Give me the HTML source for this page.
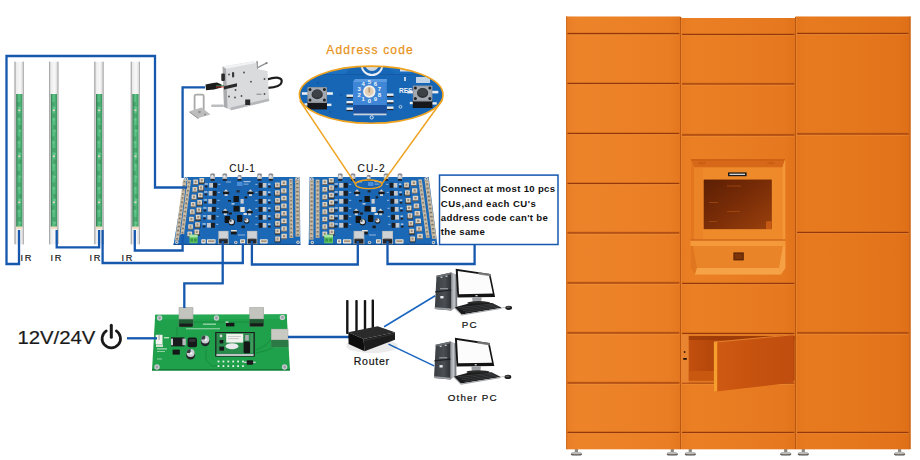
<!DOCTYPE html>
<html><head><meta charset="utf-8"><title>diagram</title>
<style>html,body{margin:0;padding:0;background:#fff;}svg{display:block}text{font-family:"Liberation Sans",sans-serif}</style>
</head><body>
<svg width="920" height="460" viewBox="0 0 920 460">
<rect width="920" height="460" fill="#fff"/>
<defs>
<linearGradient id="lk" x1="0" x2="1" y1="0" y2="0">
 <stop offset="0" stop-color="#ec832a"/><stop offset="0.33" stop-color="#ea7e24"/><stop offset="0.66" stop-color="#e6791f"/><stop offset="1" stop-color="#e2731a"/>
</linearGradient>
<linearGradient id="colsh" x1="0" x2="1" y1="0" y2="0">
 <stop offset="0" stop-color="#d86a14" stop-opacity="0.25"/><stop offset="0.12" stop-color="#f88e2c" stop-opacity="0.10"/><stop offset="0.5" stop-color="#f88e2c" stop-opacity="0.05"/><stop offset="0.9" stop-color="#d86a14" stop-opacity="0.05"/><stop offset="1" stop-color="#c85a0c" stop-opacity="0.22"/>
</linearGradient>
<linearGradient id="scr" x1="0" x2="1" y1="0" y2="1">
 <stop offset="0" stop-color="#5c1f04"/><stop offset="0.5" stop-color="#7a2d07"/><stop offset="1" stop-color="#9a400d"/>
</linearGradient>
<linearGradient id="inn" x1="0" x2="1" y1="0" y2="0">
 <stop offset="0" stop-color="#c2500e"/><stop offset="0.25" stop-color="#b3460a"/><stop offset="1" stop-color="#a84008"/>
</linearGradient>
<linearGradient id="door" x1="0" x2="1" y1="0" y2="0">
 <stop offset="0" stop-color="#cf5a12"/><stop offset="0.5" stop-color="#c6520f"/><stop offset="1" stop-color="#c04d0e"/>
</linearGradient>
<linearGradient id="tube" x1="0" x2="1" y1="0" y2="0">
 <stop offset="0" stop-color="#b4b4b4"/><stop offset="0.2" stop-color="#ededed"/><stop offset="0.6" stop-color="#f8f8f8"/><stop offset="0.85" stop-color="#dedede"/><stop offset="1" stop-color="#bcbcbc"/>
</linearGradient>
<linearGradient id="pcb" x1="0" x2="1" y1="0" y2="0">
 <stop offset="0" stop-color="#3c9f63"/><stop offset="0.5" stop-color="#5cc488"/><stop offset="1" stop-color="#3a955c"/>
</linearGradient>
</defs>
<g id="locker">
<rect x="574.8" y="448.5" width="3.2" height="4.5" fill="#8d8a86"/>
<ellipse cx="576.4" cy="453.6" rx="5.6" ry="1.7" fill="#9b9995"/>
<ellipse cx="576.4" cy="454.4" rx="5.6" ry="1.2" fill="#5f5d5a"/>
<ellipse cx="576.4" cy="453.2" rx="5" ry="1.1" fill="#bdbbb7"/>
<rect x="670.6999999999999" y="448.5" width="3.2" height="4.5" fill="#8d8a86"/>
<ellipse cx="672.3" cy="453.6" rx="5.6" ry="1.7" fill="#9b9995"/>
<ellipse cx="672.3" cy="454.4" rx="5.6" ry="1.2" fill="#5f5d5a"/>
<ellipse cx="672.3" cy="453.2" rx="5" ry="1.1" fill="#bdbbb7"/>
<rect x="688.6999999999999" y="448.5" width="3.2" height="4.5" fill="#8d8a86"/>
<ellipse cx="690.3" cy="453.6" rx="5.6" ry="1.7" fill="#9b9995"/>
<ellipse cx="690.3" cy="454.4" rx="5.6" ry="1.2" fill="#5f5d5a"/>
<ellipse cx="690.3" cy="453.2" rx="5" ry="1.1" fill="#bdbbb7"/>
<rect x="784.1" y="448.5" width="3.2" height="4.5" fill="#8d8a86"/>
<ellipse cx="785.7" cy="453.6" rx="5.6" ry="1.7" fill="#9b9995"/>
<ellipse cx="785.7" cy="454.4" rx="5.6" ry="1.2" fill="#5f5d5a"/>
<ellipse cx="785.7" cy="453.2" rx="5" ry="1.1" fill="#bdbbb7"/>
<rect x="801.6999999999999" y="448.5" width="3.2" height="4.5" fill="#8d8a86"/>
<ellipse cx="803.3" cy="453.6" rx="5.6" ry="1.7" fill="#9b9995"/>
<ellipse cx="803.3" cy="454.4" rx="5.6" ry="1.2" fill="#5f5d5a"/>
<ellipse cx="803.3" cy="453.2" rx="5" ry="1.1" fill="#bdbbb7"/>
<rect x="898.0" y="448.5" width="3.2" height="4.5" fill="#8d8a86"/>
<ellipse cx="899.6" cy="453.6" rx="5.6" ry="1.7" fill="#9b9995"/>
<ellipse cx="899.6" cy="454.4" rx="5.6" ry="1.2" fill="#5f5d5a"/>
<ellipse cx="899.6" cy="453.2" rx="5" ry="1.1" fill="#bdbbb7"/>
<rect x="566" y="16.5" width="344.5" height="432.8" fill="url(#lk)"/>
<rect x="566" y="16.5" width="114.5" height="432.8" fill="url(#colsh)"/>
<rect x="680.5" y="16.5" width="115.0" height="432.8" fill="url(#colsh)"/>
<rect x="795.5" y="16.5" width="115.0" height="432.8" fill="url(#colsh)"/>
<rect x="680.5" y="15" width="115" height="3" fill="#fff"/>
<rect x="680.0" y="17" width="1.1" height="432" fill="#b9560f"/>
<rect x="681.1" y="17" width="0.8" height="432" fill="#f0933f" opacity="0.6"/>
<rect x="795.0" y="17" width="1.1" height="432" fill="#b9560f"/>
<rect x="796.1" y="17" width="0.8" height="432" fill="#f0933f" opacity="0.6"/>
<rect x="566" y="16.5" width="1.2" height="432.5" fill="#d4701f"/>
<rect x="909.3" y="16.5" width="1.2" height="432.5" fill="#c7641a"/>
<rect x="567.5" y="33.0" width="111.79999999999995" height="1.4" fill="#97380a"/>
<rect x="567.5" y="34.400000000000006" width="111.79999999999995" height="0.9" fill="#f29a45" opacity="0.55"/>
<rect x="567.5" y="32.2" width="111.79999999999995" height="0.8" fill="#cf6a1c" opacity="0.6"/>
<rect x="567.5" y="82.8" width="111.79999999999995" height="1.4" fill="#97380a"/>
<rect x="567.5" y="84.2" width="111.79999999999995" height="0.9" fill="#f29a45" opacity="0.55"/>
<rect x="567.5" y="82.0" width="111.79999999999995" height="0.8" fill="#cf6a1c" opacity="0.6"/>
<rect x="567.5" y="132.8" width="111.79999999999995" height="1.4" fill="#97380a"/>
<rect x="567.5" y="134.2" width="111.79999999999995" height="0.9" fill="#f29a45" opacity="0.55"/>
<rect x="567.5" y="132.0" width="111.79999999999995" height="0.8" fill="#cf6a1c" opacity="0.6"/>
<rect x="567.5" y="182.8" width="111.79999999999995" height="1.4" fill="#97380a"/>
<rect x="567.5" y="184.2" width="111.79999999999995" height="0.9" fill="#f29a45" opacity="0.55"/>
<rect x="567.5" y="182.0" width="111.79999999999995" height="0.8" fill="#cf6a1c" opacity="0.6"/>
<rect x="567.5" y="232.3" width="111.79999999999995" height="1.4" fill="#97380a"/>
<rect x="567.5" y="233.7" width="111.79999999999995" height="0.9" fill="#f29a45" opacity="0.55"/>
<rect x="567.5" y="231.5" width="111.79999999999995" height="0.8" fill="#cf6a1c" opacity="0.6"/>
<rect x="567.5" y="282.3" width="111.79999999999995" height="1.4" fill="#97380a"/>
<rect x="567.5" y="283.7" width="111.79999999999995" height="0.9" fill="#f29a45" opacity="0.55"/>
<rect x="567.5" y="281.5" width="111.79999999999995" height="0.8" fill="#cf6a1c" opacity="0.6"/>
<rect x="567.5" y="332.3" width="111.79999999999995" height="1.4" fill="#97380a"/>
<rect x="567.5" y="333.7" width="111.79999999999995" height="0.9" fill="#f29a45" opacity="0.55"/>
<rect x="567.5" y="331.5" width="111.79999999999995" height="0.8" fill="#cf6a1c" opacity="0.6"/>
<rect x="567.5" y="382.3" width="111.79999999999995" height="1.4" fill="#97380a"/>
<rect x="567.5" y="383.7" width="111.79999999999995" height="0.9" fill="#f29a45" opacity="0.55"/>
<rect x="567.5" y="381.5" width="111.79999999999995" height="0.8" fill="#cf6a1c" opacity="0.6"/>
<rect x="567.5" y="431.8" width="111.79999999999995" height="1.4" fill="#97380a"/>
<rect x="567.5" y="433.2" width="111.79999999999995" height="0.9" fill="#f29a45" opacity="0.55"/>
<rect x="567.5" y="431.0" width="111.79999999999995" height="0.8" fill="#cf6a1c" opacity="0.6"/>
<rect x="682" y="33.8" width="112.29999999999995" height="1.4" fill="#97380a"/>
<rect x="682" y="35.2" width="112.29999999999995" height="0.9" fill="#f29a45" opacity="0.55"/>
<rect x="682" y="33.0" width="112.29999999999995" height="0.8" fill="#cf6a1c" opacity="0.6"/>
<rect x="682" y="83.3" width="112.29999999999995" height="1.4" fill="#97380a"/>
<rect x="682" y="84.7" width="112.29999999999995" height="0.9" fill="#f29a45" opacity="0.55"/>
<rect x="682" y="82.5" width="112.29999999999995" height="0.8" fill="#cf6a1c" opacity="0.6"/>
<rect x="682" y="134.3" width="112.29999999999995" height="1.4" fill="#97380a"/>
<rect x="682" y="135.7" width="112.29999999999995" height="0.9" fill="#f29a45" opacity="0.55"/>
<rect x="682" y="133.5" width="112.29999999999995" height="0.8" fill="#cf6a1c" opacity="0.6"/>
<rect x="682" y="282.8" width="112.29999999999995" height="1.4" fill="#97380a"/>
<rect x="682" y="284.2" width="112.29999999999995" height="0.9" fill="#f29a45" opacity="0.55"/>
<rect x="682" y="282.0" width="112.29999999999995" height="0.8" fill="#cf6a1c" opacity="0.6"/>
<rect x="682" y="332.8" width="112.29999999999995" height="1.4" fill="#97380a"/>
<rect x="682" y="334.2" width="112.29999999999995" height="0.9" fill="#f29a45" opacity="0.55"/>
<rect x="682" y="332.0" width="112.29999999999995" height="0.8" fill="#cf6a1c" opacity="0.6"/>
<rect x="682" y="382.3" width="112.29999999999995" height="1.4" fill="#97380a"/>
<rect x="682" y="383.7" width="112.29999999999995" height="0.9" fill="#f29a45" opacity="0.55"/>
<rect x="682" y="381.5" width="112.29999999999995" height="0.8" fill="#cf6a1c" opacity="0.6"/>
<rect x="682" y="431.8" width="112.29999999999995" height="1.4" fill="#97380a"/>
<rect x="682" y="433.2" width="112.29999999999995" height="0.9" fill="#f29a45" opacity="0.55"/>
<rect x="682" y="431.0" width="112.29999999999995" height="0.8" fill="#cf6a1c" opacity="0.6"/>
<rect x="797" y="32.8" width="111.5" height="1.4" fill="#97380a"/>
<rect x="797" y="34.2" width="111.5" height="0.9" fill="#f29a45" opacity="0.55"/>
<rect x="797" y="31.999999999999996" width="111.5" height="0.8" fill="#cf6a1c" opacity="0.6"/>
<rect x="797" y="133.3" width="111.5" height="1.4" fill="#97380a"/>
<rect x="797" y="134.7" width="111.5" height="0.9" fill="#f29a45" opacity="0.55"/>
<rect x="797" y="132.5" width="111.5" height="0.8" fill="#cf6a1c" opacity="0.6"/>
<rect x="797" y="231.8" width="111.5" height="1.4" fill="#97380a"/>
<rect x="797" y="233.2" width="111.5" height="0.9" fill="#f29a45" opacity="0.55"/>
<rect x="797" y="231.0" width="111.5" height="0.8" fill="#cf6a1c" opacity="0.6"/>
<rect x="797" y="332.3" width="111.5" height="1.4" fill="#97380a"/>
<rect x="797" y="333.7" width="111.5" height="0.9" fill="#f29a45" opacity="0.55"/>
<rect x="797" y="331.5" width="111.5" height="0.8" fill="#cf6a1c" opacity="0.6"/>
<rect x="797" y="431.8" width="111.5" height="1.4" fill="#97380a"/>
<rect x="797" y="433.2" width="111.5" height="0.9" fill="#f29a45" opacity="0.55"/>
<rect x="797" y="431.0" width="111.5" height="0.8" fill="#cf6a1c" opacity="0.6"/>
<path d="M690.6 159 H785.2 V268 L781 274.5 H695 L690.6 268 Z" fill="#ee8a2a"/>
<path d="M690.6 159 H785.2 L782.4 167.6 H694 Z" fill="#d7681a"/>
<path d="M690.6 159 H785.2 L784.6 161 H691.2 Z" fill="#cc5e14" opacity="0.7"/>
<ellipse cx="702" cy="163" rx="4" ry="1.6" fill="#c65a12" opacity="0.6"/><ellipse cx="771" cy="163" rx="4" ry="1.6" fill="#c65a12" opacity="0.6"/>
<path d="M690.6 159 L694 167.6 V240 L690.6 240 Z" fill="#e3771f"/>
<path d="M785.2 159 L782.4 167.6 V240 L785.2 240 Z" fill="#f4983a"/>
<rect x="694" y="167.6" width="88.4" height="72" fill="#ee8a2a"/>
<rect x="694" y="167.6" width="9" height="72" fill="#e98226" opacity="0.8"/>
<rect x="703.2" y="179" width="69" height="50.8" fill="#f0912f"/>
<rect x="703.8" y="179.7" width="67.8" height="49.4" fill="#8f3608"/>
<rect x="703.8" y="179.7" width="67.8" height="49.4" fill="url(#scr)"/>
<path d="M771.6 221 L766 221.5 V229.1 H771.6 Z" fill="#c65a14"/>
<rect x="727" y="185.5" width="14" height="1" fill="#a44a12" opacity="0.8"/>
<rect x="709" y="202" width="9" height="1" fill="#a44a12" opacity="0.8"/>
<rect x="727" y="211" width="13" height="1" fill="#a44a12" opacity="0.8"/>
<rect x="709" y="221" width="8" height="1" fill="#a44a12" opacity="0.8"/>
<rect x="728" y="172.4" width="18.6" height="3.8" fill="#1a1a1a"/><rect x="729.5" y="173.7" width="15.5" height="1.2" fill="#e9e9e9"/>
<rect x="690.6" y="239.4" width="94.8" height="1.4" fill="#c9601a"/>
<path d="M690.6 240.8 H785.4 V246 H690.6 Z" fill="#f49a3a"/>
<path d="M693 246 H783 L779 268 H697 Z" fill="#ea8428"/>
<path d="M690.6 246 H693 L697 268 L695 274.5 L690.6 268 Z" fill="#e0761f"/>
<path d="M785.4 246 H783 L779 268 L781 274.5 L785.4 268 Z" fill="#f5a044"/>
<path d="M697 268 H779 L781 274.5 H695 Z" fill="#f6a348"/>
<rect x="733.4" y="252.4" width="10.4" height="8" fill="#5a2406"/><rect x="734.6" y="253.6" width="8" height="5.6" fill="#7d3409"/>
<rect x="682" y="334.2" width="112.5" height="48.3" fill="#e27a24"/>
<rect x="688.5" y="336" width="106" height="44.5" fill="url(#inn)"/>
<rect x="688.5" y="371" width="30" height="9.5" fill="#c85710"/>
<rect x="688.5" y="336" width="106" height="4" fill="#8f3406" opacity="0.55"/>
<rect x="682" y="334.2" width="6.5" height="48.3" fill="#e98530"/>
<circle cx="684.6" cy="352" r="0.9" fill="#3a1a08"/><rect x="683.2" y="358" width="3.6" height="1.8" fill="#2a1206"/>
<path d="M713.9 341.7 L793.6 334.3 L793.6 382.6 L713.9 391.7 Z" fill="url(#door)"/>
<path d="M713.9 341.7 L717.2 341.4 L717.2 391.3 L713.9 391.7 Z" fill="#f5a02e"/>
<path d="M713.9 341.7 L793.6 334.3 L793.6 335.3 L713.9 342.7 Z" fill="#e98a35" opacity="0.8"/>
</g>
<g id="irbars">
<rect x="14.6" y="61.7" width="9.2" height="182.6" fill="url(#tube)"/>
<rect x="14.6" y="61.7" width="0.8" height="182.6" fill="#a2a2a2"/>
<rect x="22.9" y="61.7" width="0.9" height="182.6" fill="#adadad"/>
<rect x="16.2" y="94" width="6.2" height="133" fill="url(#pcb)"/>
<rect x="16.2" y="94" width="1.1" height="133" fill="#3a5f48" opacity="0.45"/>
<rect x="16.8" y="102.0" width="3.2" height="4.2" fill="#2f7a4c" opacity="0.35"/>
<rect x="19.0" y="107.0" width="2.4" height="2" fill="#7fd6a2" opacity="0.4"/>
<rect x="18.2" y="109.5" width="2.2" height="1.6" fill="#f0d9d0" opacity="0.9"/>
<rect x="17.6" y="113.5" width="3.2" height="4.2" fill="#2f7a4c" opacity="0.35"/>
<rect x="17.8" y="118.5" width="2.4" height="2" fill="#7fd6a2" opacity="0.4"/>
<rect x="18.4" y="125.0" width="3.2" height="4.2" fill="#2f7a4c" opacity="0.35"/>
<rect x="19.0" y="130.0" width="2.4" height="2" fill="#7fd6a2" opacity="0.4"/>
<rect x="16.8" y="136.5" width="3.2" height="4.2" fill="#2f7a4c" opacity="0.35"/>
<rect x="17.8" y="141.5" width="2.4" height="2" fill="#7fd6a2" opacity="0.4"/>
<rect x="17.6" y="148.0" width="3.2" height="4.2" fill="#2f7a4c" opacity="0.35"/>
<rect x="19.0" y="153.0" width="2.4" height="2" fill="#7fd6a2" opacity="0.4"/>
<rect x="18.2" y="155.5" width="2.2" height="1.6" fill="#f0d9d0" opacity="0.9"/>
<rect x="18.4" y="159.5" width="3.2" height="4.2" fill="#2f7a4c" opacity="0.35"/>
<rect x="17.8" y="164.5" width="2.4" height="2" fill="#7fd6a2" opacity="0.4"/>
<rect x="16.8" y="171.0" width="3.2" height="4.2" fill="#2f7a4c" opacity="0.35"/>
<rect x="19.0" y="176.0" width="2.4" height="2" fill="#7fd6a2" opacity="0.4"/>
<rect x="17.6" y="182.5" width="3.2" height="4.2" fill="#2f7a4c" opacity="0.35"/>
<rect x="17.8" y="187.5" width="2.4" height="2" fill="#7fd6a2" opacity="0.4"/>
<rect x="18.4" y="194.0" width="3.2" height="4.2" fill="#2f7a4c" opacity="0.35"/>
<rect x="19.0" y="199.0" width="2.4" height="2" fill="#7fd6a2" opacity="0.4"/>
<rect x="18.2" y="201.5" width="2.2" height="1.6" fill="#f0d9d0" opacity="0.9"/>
<rect x="16.8" y="205.5" width="3.2" height="4.2" fill="#2f7a4c" opacity="0.35"/>
<rect x="17.8" y="210.5" width="2.4" height="2" fill="#7fd6a2" opacity="0.4"/>
<rect x="17.6" y="217.0" width="3.2" height="4.2" fill="#2f7a4c" opacity="0.35"/>
<rect x="19.0" y="222.0" width="2.4" height="2" fill="#7fd6a2" opacity="0.4"/>
<rect x="16.2" y="226.5" width="6.2" height="2.4" fill="#f0dcc0"/>
<rect x="49.2" y="61.7" width="9.2" height="182.6" fill="url(#tube)"/>
<rect x="49.2" y="61.7" width="0.8" height="182.6" fill="#a2a2a2"/>
<rect x="57.50000000000001" y="61.7" width="0.9" height="182.6" fill="#adadad"/>
<rect x="50.800000000000004" y="94" width="6.2" height="133" fill="url(#pcb)"/>
<rect x="50.800000000000004" y="94" width="1.1" height="133" fill="#3a5f48" opacity="0.45"/>
<rect x="51.4" y="102.0" width="3.2" height="4.2" fill="#2f7a4c" opacity="0.35"/>
<rect x="53.6" y="107.0" width="2.4" height="2" fill="#7fd6a2" opacity="0.4"/>
<rect x="52.800000000000004" y="109.5" width="2.2" height="1.6" fill="#f0d9d0" opacity="0.9"/>
<rect x="52.2" y="113.5" width="3.2" height="4.2" fill="#2f7a4c" opacity="0.35"/>
<rect x="52.4" y="118.5" width="2.4" height="2" fill="#7fd6a2" opacity="0.4"/>
<rect x="53.0" y="125.0" width="3.2" height="4.2" fill="#2f7a4c" opacity="0.35"/>
<rect x="53.6" y="130.0" width="2.4" height="2" fill="#7fd6a2" opacity="0.4"/>
<rect x="51.4" y="136.5" width="3.2" height="4.2" fill="#2f7a4c" opacity="0.35"/>
<rect x="52.4" y="141.5" width="2.4" height="2" fill="#7fd6a2" opacity="0.4"/>
<rect x="52.2" y="148.0" width="3.2" height="4.2" fill="#2f7a4c" opacity="0.35"/>
<rect x="53.6" y="153.0" width="2.4" height="2" fill="#7fd6a2" opacity="0.4"/>
<rect x="52.800000000000004" y="155.5" width="2.2" height="1.6" fill="#f0d9d0" opacity="0.9"/>
<rect x="53.0" y="159.5" width="3.2" height="4.2" fill="#2f7a4c" opacity="0.35"/>
<rect x="52.4" y="164.5" width="2.4" height="2" fill="#7fd6a2" opacity="0.4"/>
<rect x="51.4" y="171.0" width="3.2" height="4.2" fill="#2f7a4c" opacity="0.35"/>
<rect x="53.6" y="176.0" width="2.4" height="2" fill="#7fd6a2" opacity="0.4"/>
<rect x="52.2" y="182.5" width="3.2" height="4.2" fill="#2f7a4c" opacity="0.35"/>
<rect x="52.4" y="187.5" width="2.4" height="2" fill="#7fd6a2" opacity="0.4"/>
<rect x="53.0" y="194.0" width="3.2" height="4.2" fill="#2f7a4c" opacity="0.35"/>
<rect x="53.6" y="199.0" width="2.4" height="2" fill="#7fd6a2" opacity="0.4"/>
<rect x="52.800000000000004" y="201.5" width="2.2" height="1.6" fill="#f0d9d0" opacity="0.9"/>
<rect x="51.4" y="205.5" width="3.2" height="4.2" fill="#2f7a4c" opacity="0.35"/>
<rect x="52.4" y="210.5" width="2.4" height="2" fill="#7fd6a2" opacity="0.4"/>
<rect x="52.2" y="217.0" width="3.2" height="4.2" fill="#2f7a4c" opacity="0.35"/>
<rect x="53.6" y="222.0" width="2.4" height="2" fill="#7fd6a2" opacity="0.4"/>
<rect x="50.800000000000004" y="226.5" width="6.2" height="2.4" fill="#f0dcc0"/>
<rect x="94.4" y="61.7" width="9.2" height="182.6" fill="url(#tube)"/>
<rect x="94.4" y="61.7" width="0.8" height="182.6" fill="#a2a2a2"/>
<rect x="102.7" y="61.7" width="0.9" height="182.6" fill="#adadad"/>
<rect x="96.0" y="94" width="6.2" height="133" fill="url(#pcb)"/>
<rect x="96.0" y="94" width="1.1" height="133" fill="#3a5f48" opacity="0.45"/>
<rect x="96.6" y="102.0" width="3.2" height="4.2" fill="#2f7a4c" opacity="0.35"/>
<rect x="98.8" y="107.0" width="2.4" height="2" fill="#7fd6a2" opacity="0.4"/>
<rect x="98.0" y="109.5" width="2.2" height="1.6" fill="#f0d9d0" opacity="0.9"/>
<rect x="97.4" y="113.5" width="3.2" height="4.2" fill="#2f7a4c" opacity="0.35"/>
<rect x="97.6" y="118.5" width="2.4" height="2" fill="#7fd6a2" opacity="0.4"/>
<rect x="98.2" y="125.0" width="3.2" height="4.2" fill="#2f7a4c" opacity="0.35"/>
<rect x="98.8" y="130.0" width="2.4" height="2" fill="#7fd6a2" opacity="0.4"/>
<rect x="96.6" y="136.5" width="3.2" height="4.2" fill="#2f7a4c" opacity="0.35"/>
<rect x="97.6" y="141.5" width="2.4" height="2" fill="#7fd6a2" opacity="0.4"/>
<rect x="97.4" y="148.0" width="3.2" height="4.2" fill="#2f7a4c" opacity="0.35"/>
<rect x="98.8" y="153.0" width="2.4" height="2" fill="#7fd6a2" opacity="0.4"/>
<rect x="98.0" y="155.5" width="2.2" height="1.6" fill="#f0d9d0" opacity="0.9"/>
<rect x="98.2" y="159.5" width="3.2" height="4.2" fill="#2f7a4c" opacity="0.35"/>
<rect x="97.6" y="164.5" width="2.4" height="2" fill="#7fd6a2" opacity="0.4"/>
<rect x="96.6" y="171.0" width="3.2" height="4.2" fill="#2f7a4c" opacity="0.35"/>
<rect x="98.8" y="176.0" width="2.4" height="2" fill="#7fd6a2" opacity="0.4"/>
<rect x="97.4" y="182.5" width="3.2" height="4.2" fill="#2f7a4c" opacity="0.35"/>
<rect x="97.6" y="187.5" width="2.4" height="2" fill="#7fd6a2" opacity="0.4"/>
<rect x="98.2" y="194.0" width="3.2" height="4.2" fill="#2f7a4c" opacity="0.35"/>
<rect x="98.8" y="199.0" width="2.4" height="2" fill="#7fd6a2" opacity="0.4"/>
<rect x="98.0" y="201.5" width="2.2" height="1.6" fill="#f0d9d0" opacity="0.9"/>
<rect x="96.6" y="205.5" width="3.2" height="4.2" fill="#2f7a4c" opacity="0.35"/>
<rect x="97.6" y="210.5" width="2.4" height="2" fill="#7fd6a2" opacity="0.4"/>
<rect x="97.4" y="217.0" width="3.2" height="4.2" fill="#2f7a4c" opacity="0.35"/>
<rect x="98.8" y="222.0" width="2.4" height="2" fill="#7fd6a2" opacity="0.4"/>
<rect x="96.0" y="226.5" width="6.2" height="2.4" fill="#f0dcc0"/>
<rect x="130.8" y="61.7" width="9.2" height="182.6" fill="url(#tube)"/>
<rect x="130.8" y="61.7" width="0.8" height="182.6" fill="#a2a2a2"/>
<rect x="139.1" y="61.7" width="0.9" height="182.6" fill="#adadad"/>
<rect x="132.4" y="94" width="6.2" height="133" fill="url(#pcb)"/>
<rect x="132.4" y="94" width="1.1" height="133" fill="#3a5f48" opacity="0.45"/>
<rect x="133.0" y="102.0" width="3.2" height="4.2" fill="#2f7a4c" opacity="0.35"/>
<rect x="135.2" y="107.0" width="2.4" height="2" fill="#7fd6a2" opacity="0.4"/>
<rect x="134.4" y="109.5" width="2.2" height="1.6" fill="#f0d9d0" opacity="0.9"/>
<rect x="133.8" y="113.5" width="3.2" height="4.2" fill="#2f7a4c" opacity="0.35"/>
<rect x="134.0" y="118.5" width="2.4" height="2" fill="#7fd6a2" opacity="0.4"/>
<rect x="134.6" y="125.0" width="3.2" height="4.2" fill="#2f7a4c" opacity="0.35"/>
<rect x="135.2" y="130.0" width="2.4" height="2" fill="#7fd6a2" opacity="0.4"/>
<rect x="133.0" y="136.5" width="3.2" height="4.2" fill="#2f7a4c" opacity="0.35"/>
<rect x="134.0" y="141.5" width="2.4" height="2" fill="#7fd6a2" opacity="0.4"/>
<rect x="133.8" y="148.0" width="3.2" height="4.2" fill="#2f7a4c" opacity="0.35"/>
<rect x="135.2" y="153.0" width="2.4" height="2" fill="#7fd6a2" opacity="0.4"/>
<rect x="134.4" y="155.5" width="2.2" height="1.6" fill="#f0d9d0" opacity="0.9"/>
<rect x="134.6" y="159.5" width="3.2" height="4.2" fill="#2f7a4c" opacity="0.35"/>
<rect x="134.0" y="164.5" width="2.4" height="2" fill="#7fd6a2" opacity="0.4"/>
<rect x="133.0" y="171.0" width="3.2" height="4.2" fill="#2f7a4c" opacity="0.35"/>
<rect x="135.2" y="176.0" width="2.4" height="2" fill="#7fd6a2" opacity="0.4"/>
<rect x="133.8" y="182.5" width="3.2" height="4.2" fill="#2f7a4c" opacity="0.35"/>
<rect x="134.0" y="187.5" width="2.4" height="2" fill="#7fd6a2" opacity="0.4"/>
<rect x="134.6" y="194.0" width="3.2" height="4.2" fill="#2f7a4c" opacity="0.35"/>
<rect x="135.2" y="199.0" width="2.4" height="2" fill="#7fd6a2" opacity="0.4"/>
<rect x="134.4" y="201.5" width="2.2" height="1.6" fill="#f0d9d0" opacity="0.9"/>
<rect x="133.0" y="205.5" width="3.2" height="4.2" fill="#2f7a4c" opacity="0.35"/>
<rect x="134.0" y="210.5" width="2.4" height="2" fill="#7fd6a2" opacity="0.4"/>
<rect x="133.8" y="217.0" width="3.2" height="4.2" fill="#2f7a4c" opacity="0.35"/>
<rect x="135.2" y="222.0" width="2.4" height="2" fill="#7fd6a2" opacity="0.4"/>
<rect x="132.4" y="226.5" width="6.2" height="2.4" fill="#f0dcc0"/>
</g>
<g>
<path d="M184.8 177.0 L299.6 177.0 L300.4 245.0 L173.5 245.0 Z" fill="#1b68b6"/>
<path d="M173.5 243.8 L300.4 243.8 L300.4 245.0 L173.5 245.0 Z" fill="#154f92"/>
<rect x="218.0" y="179.0" width="39.69999999999999" height="52.0" fill="#1a62ad" opacity="0.55"/>
<path d="M183.0 179.5 L186.6 179.5 L178.8 240.5 L175.0 240.5 Z" fill="#cdbfa8"/>
<rect x="183.6" y="180.9" width="1.8" height="1.5" fill="#6d6a66" opacity="0.85"/>
<rect x="182.7" y="182.6" width="3.6" height="0.6" fill="#a89a84"/>
<rect x="183.1" y="185.0" width="1.8" height="1.5" fill="#6d6a66" opacity="0.85"/>
<rect x="182.2" y="186.7" width="3.6" height="0.6" fill="#a89a84"/>
<rect x="182.6" y="189.1" width="1.8" height="1.5" fill="#6d6a66" opacity="0.85"/>
<rect x="181.7" y="190.8" width="3.6" height="0.6" fill="#a89a84"/>
<rect x="182.0" y="193.1" width="1.8" height="1.5" fill="#6d6a66" opacity="0.85"/>
<rect x="181.1" y="194.8" width="3.6" height="0.6" fill="#a89a84"/>
<rect x="181.5" y="197.2" width="1.9" height="1.5" fill="#6d6a66" opacity="0.85"/>
<rect x="180.6" y="198.9" width="3.7" height="0.6" fill="#a89a84"/>
<rect x="181.0" y="201.3" width="1.9" height="1.5" fill="#6d6a66" opacity="0.85"/>
<rect x="180.1" y="203.0" width="3.7" height="0.6" fill="#a89a84"/>
<rect x="180.4" y="205.3" width="1.9" height="1.5" fill="#6d6a66" opacity="0.85"/>
<rect x="179.5" y="207.0" width="3.7" height="0.6" fill="#a89a84"/>
<rect x="179.9" y="209.4" width="1.9" height="1.5" fill="#6d6a66" opacity="0.85"/>
<rect x="179.0" y="211.1" width="3.7" height="0.6" fill="#a89a84"/>
<rect x="179.4" y="213.5" width="1.9" height="1.5" fill="#6d6a66" opacity="0.85"/>
<rect x="178.5" y="215.2" width="3.7" height="0.6" fill="#a89a84"/>
<rect x="178.8" y="217.5" width="1.9" height="1.5" fill="#6d6a66" opacity="0.85"/>
<rect x="177.9" y="219.2" width="3.7" height="0.6" fill="#a89a84"/>
<rect x="178.3" y="221.6" width="1.9" height="1.5" fill="#6d6a66" opacity="0.85"/>
<rect x="177.4" y="223.3" width="3.7" height="0.6" fill="#a89a84"/>
<rect x="177.8" y="225.7" width="2.0" height="1.5" fill="#6d6a66" opacity="0.85"/>
<rect x="176.9" y="227.4" width="3.8" height="0.6" fill="#a89a84"/>
<rect x="177.2" y="229.7" width="2.0" height="1.5" fill="#6d6a66" opacity="0.85"/>
<rect x="176.3" y="231.4" width="3.8" height="0.6" fill="#a89a84"/>
<rect x="176.7" y="233.8" width="2.0" height="1.5" fill="#6d6a66" opacity="0.85"/>
<rect x="175.8" y="235.5" width="3.8" height="0.6" fill="#a89a84"/>
<rect x="176.2" y="237.9" width="2.0" height="1.5" fill="#6d6a66" opacity="0.85"/>
<rect x="175.3" y="239.6" width="3.8" height="0.6" fill="#a89a84"/>
<path d="M187.4 180 L191.0 180 L184.0 234.5 L180.4 234.5 Z" fill="#cdbfa8"/>
<rect x="188.0" y="181.5" width="1.8" height="1.5" fill="#6d6a66" opacity="0.85"/>
<rect x="187.1" y="183.2" width="3.6" height="0.6" fill="#a89a84"/>
<rect x="187.5" y="185.7" width="1.8" height="1.5" fill="#6d6a66" opacity="0.85"/>
<rect x="186.6" y="187.4" width="3.6" height="0.6" fill="#a89a84"/>
<rect x="187.0" y="189.9" width="1.8" height="1.5" fill="#6d6a66" opacity="0.85"/>
<rect x="186.1" y="191.6" width="3.6" height="0.6" fill="#a89a84"/>
<rect x="186.4" y="194.1" width="1.8" height="1.5" fill="#6d6a66" opacity="0.85"/>
<rect x="185.5" y="195.8" width="3.6" height="0.6" fill="#a89a84"/>
<rect x="185.9" y="198.3" width="1.8" height="1.5" fill="#6d6a66" opacity="0.85"/>
<rect x="185.0" y="200.0" width="3.6" height="0.6" fill="#a89a84"/>
<rect x="185.3" y="202.5" width="1.8" height="1.5" fill="#6d6a66" opacity="0.85"/>
<rect x="184.4" y="204.2" width="3.6" height="0.6" fill="#a89a84"/>
<rect x="184.8" y="206.7" width="1.8" height="1.5" fill="#6d6a66" opacity="0.85"/>
<rect x="183.9" y="208.3" width="3.6" height="0.6" fill="#a89a84"/>
<rect x="184.3" y="210.8" width="1.8" height="1.5" fill="#6d6a66" opacity="0.85"/>
<rect x="183.4" y="212.5" width="3.6" height="0.6" fill="#a89a84"/>
<rect x="183.7" y="215.0" width="1.8" height="1.5" fill="#6d6a66" opacity="0.85"/>
<rect x="182.8" y="216.7" width="3.6" height="0.6" fill="#a89a84"/>
<rect x="183.2" y="219.2" width="1.8" height="1.5" fill="#6d6a66" opacity="0.85"/>
<rect x="182.3" y="220.9" width="3.6" height="0.6" fill="#a89a84"/>
<rect x="182.6" y="223.4" width="1.8" height="1.5" fill="#6d6a66" opacity="0.85"/>
<rect x="181.7" y="225.1" width="3.6" height="0.6" fill="#a89a84"/>
<rect x="182.1" y="227.6" width="1.8" height="1.5" fill="#6d6a66" opacity="0.85"/>
<rect x="181.2" y="229.3" width="3.6" height="0.6" fill="#a89a84"/>
<rect x="181.6" y="231.8" width="1.8" height="1.5" fill="#6d6a66" opacity="0.85"/>
<rect x="180.7" y="233.5" width="3.6" height="0.6" fill="#a89a84"/>
<path d="M289.1 178.7 L292.6 178.7 L293.2 238 L289.6 238 Z" fill="#cdbfa8"/>
<rect x="290.0" y="180.1" width="1.7" height="1.5" fill="#6d6a66" opacity="0.85"/>
<rect x="289.1" y="181.8" width="3.5" height="0.6" fill="#a89a84"/>
<rect x="290.1" y="184.0" width="1.7" height="1.5" fill="#6d6a66" opacity="0.85"/>
<rect x="289.2" y="185.7" width="3.5" height="0.6" fill="#a89a84"/>
<rect x="290.1" y="188.0" width="1.7" height="1.5" fill="#6d6a66" opacity="0.85"/>
<rect x="289.2" y="189.7" width="3.5" height="0.6" fill="#a89a84"/>
<rect x="290.1" y="191.9" width="1.7" height="1.5" fill="#6d6a66" opacity="0.85"/>
<rect x="289.2" y="193.6" width="3.5" height="0.6" fill="#a89a84"/>
<rect x="290.1" y="195.9" width="1.7" height="1.5" fill="#6d6a66" opacity="0.85"/>
<rect x="289.2" y="197.6" width="3.5" height="0.6" fill="#a89a84"/>
<rect x="290.2" y="199.8" width="1.7" height="1.5" fill="#6d6a66" opacity="0.85"/>
<rect x="289.3" y="201.5" width="3.5" height="0.6" fill="#a89a84"/>
<rect x="290.2" y="203.8" width="1.7" height="1.5" fill="#6d6a66" opacity="0.85"/>
<rect x="289.3" y="205.5" width="3.5" height="0.6" fill="#a89a84"/>
<rect x="290.2" y="207.8" width="1.7" height="1.5" fill="#6d6a66" opacity="0.85"/>
<rect x="289.4" y="209.4" width="3.5" height="0.6" fill="#a89a84"/>
<rect x="290.3" y="211.7" width="1.8" height="1.5" fill="#6d6a66" opacity="0.85"/>
<rect x="289.4" y="213.4" width="3.6" height="0.6" fill="#a89a84"/>
<rect x="290.3" y="215.7" width="1.8" height="1.5" fill="#6d6a66" opacity="0.85"/>
<rect x="289.4" y="217.4" width="3.6" height="0.6" fill="#a89a84"/>
<rect x="290.4" y="219.6" width="1.8" height="1.5" fill="#6d6a66" opacity="0.85"/>
<rect x="289.5" y="221.3" width="3.6" height="0.6" fill="#a89a84"/>
<rect x="290.4" y="223.6" width="1.8" height="1.5" fill="#6d6a66" opacity="0.85"/>
<rect x="289.5" y="225.3" width="3.6" height="0.6" fill="#a89a84"/>
<rect x="290.4" y="227.5" width="1.8" height="1.5" fill="#6d6a66" opacity="0.85"/>
<rect x="289.5" y="229.2" width="3.6" height="0.6" fill="#a89a84"/>
<rect x="290.4" y="231.5" width="1.8" height="1.5" fill="#6d6a66" opacity="0.85"/>
<rect x="289.6" y="233.2" width="3.6" height="0.6" fill="#a89a84"/>
<rect x="290.5" y="235.4" width="1.8" height="1.5" fill="#6d6a66" opacity="0.85"/>
<rect x="289.6" y="237.1" width="3.6" height="0.6" fill="#a89a84"/>
<path d="M295.2 177.6 L299.4 177.6 L299.9 236.5 L295.6 236.5 Z" fill="#cdbfa8"/>
<rect x="296.1" y="179.0" width="2.4" height="1.5" fill="#6d6a66" opacity="0.85"/>
<rect x="295.2" y="180.7" width="4.2" height="0.6" fill="#a89a84"/>
<rect x="296.1" y="182.9" width="2.4" height="1.5" fill="#6d6a66" opacity="0.85"/>
<rect x="295.2" y="184.6" width="4.2" height="0.6" fill="#a89a84"/>
<rect x="296.2" y="186.8" width="2.4" height="1.5" fill="#6d6a66" opacity="0.85"/>
<rect x="295.3" y="188.5" width="4.2" height="0.6" fill="#a89a84"/>
<rect x="296.2" y="190.7" width="2.4" height="1.5" fill="#6d6a66" opacity="0.85"/>
<rect x="295.3" y="192.4" width="4.2" height="0.6" fill="#a89a84"/>
<rect x="296.2" y="194.7" width="2.4" height="1.5" fill="#6d6a66" opacity="0.85"/>
<rect x="295.3" y="196.4" width="4.2" height="0.6" fill="#a89a84"/>
<rect x="296.2" y="198.6" width="2.4" height="1.5" fill="#6d6a66" opacity="0.85"/>
<rect x="295.3" y="200.3" width="4.2" height="0.6" fill="#a89a84"/>
<rect x="296.3" y="202.5" width="2.4" height="1.5" fill="#6d6a66" opacity="0.85"/>
<rect x="295.4" y="204.2" width="4.2" height="0.6" fill="#a89a84"/>
<rect x="296.3" y="206.5" width="2.5" height="1.5" fill="#6d6a66" opacity="0.85"/>
<rect x="295.4" y="208.2" width="4.2" height="0.6" fill="#a89a84"/>
<rect x="296.3" y="210.4" width="2.5" height="1.5" fill="#6d6a66" opacity="0.85"/>
<rect x="295.4" y="212.1" width="4.3" height="0.6" fill="#a89a84"/>
<rect x="296.4" y="214.3" width="2.5" height="1.5" fill="#6d6a66" opacity="0.85"/>
<rect x="295.5" y="216.0" width="4.3" height="0.6" fill="#a89a84"/>
<rect x="296.4" y="218.2" width="2.5" height="1.5" fill="#6d6a66" opacity="0.85"/>
<rect x="295.5" y="219.9" width="4.3" height="0.6" fill="#a89a84"/>
<rect x="296.4" y="222.2" width="2.5" height="1.5" fill="#6d6a66" opacity="0.85"/>
<rect x="295.5" y="223.9" width="4.3" height="0.6" fill="#a89a84"/>
<rect x="296.4" y="226.1" width="2.5" height="1.5" fill="#6d6a66" opacity="0.85"/>
<rect x="295.5" y="227.8" width="4.3" height="0.6" fill="#a89a84"/>
<rect x="296.5" y="230.0" width="2.5" height="1.5" fill="#6d6a66" opacity="0.85"/>
<rect x="295.6" y="231.7" width="4.3" height="0.6" fill="#a89a84"/>
<rect x="296.5" y="233.9" width="2.5" height="1.5" fill="#6d6a66" opacity="0.85"/>
<rect x="295.6" y="235.6" width="4.3" height="0.6" fill="#a89a84"/>
<rect x="193.3" y="179.6" width="4.7" height="5" rx="0.6" fill="#ddd2c2"/>
<rect x="194.7" y="180.8" width="1.9" height="2.2" fill="#9c8b78"/>
<rect x="193.3" y="184.0" width="4.7" height="1.1" fill="#6f675c"/>
<rect x="192.5" y="187.0" width="4.7" height="5" rx="0.6" fill="#ddd2c2"/>
<rect x="193.9" y="188.2" width="1.9" height="2.2" fill="#9c8b78"/>
<rect x="192.5" y="191.4" width="4.7" height="1.1" fill="#6f675c"/>
<rect x="191.6" y="194.5" width="4.7" height="5" rx="0.6" fill="#ddd2c2"/>
<rect x="193.0" y="195.7" width="1.9" height="2.2" fill="#9c8b78"/>
<rect x="191.6" y="198.9" width="4.7" height="1.1" fill="#6f675c"/>
<rect x="190.8" y="201.9" width="4.7" height="5" rx="0.6" fill="#ddd2c2"/>
<rect x="192.2" y="203.1" width="1.9" height="2.2" fill="#9c8b78"/>
<rect x="190.8" y="206.3" width="4.7" height="1.1" fill="#6f675c"/>
<rect x="189.9" y="209.3" width="4.7" height="5" rx="0.6" fill="#ddd2c2"/>
<rect x="191.3" y="210.5" width="1.9" height="2.2" fill="#9c8b78"/>
<rect x="189.9" y="213.7" width="4.7" height="1.1" fill="#6f675c"/>
<rect x="189.1" y="216.7" width="4.7" height="5" rx="0.6" fill="#ddd2c2"/>
<rect x="190.5" y="217.9" width="1.9" height="2.2" fill="#9c8b78"/>
<rect x="189.1" y="221.1" width="4.7" height="1.1" fill="#6f675c"/>
<rect x="188.2" y="224.2" width="4.7" height="5" rx="0.6" fill="#ddd2c2"/>
<rect x="189.6" y="225.4" width="1.9" height="2.2" fill="#9c8b78"/>
<rect x="188.2" y="228.6" width="4.7" height="1.1" fill="#6f675c"/>
<rect x="187.4" y="231.6" width="4.7" height="5" rx="0.6" fill="#ddd2c2"/>
<rect x="188.8" y="232.8" width="1.9" height="2.2" fill="#9c8b78"/>
<rect x="187.4" y="236.0" width="4.7" height="1.1" fill="#6f675c"/>
<rect x="199.0" y="179.5" width="5.5" height="4.4" fill="#1c1d20"/>
<rect x="199.4" y="177.9" width="4.7" height="5" rx="0.6" fill="#ddd2c2"/>
<rect x="200.8" y="179.1" width="1.9" height="2.2" fill="#9c8b78"/>
<rect x="199.4" y="182.3" width="4.7" height="1.1" fill="#6f675c"/>
<rect x="198.3" y="186.9" width="5.5" height="4.4" fill="#1c1d20"/>
<rect x="198.7" y="185.3" width="4.7" height="5" rx="0.6" fill="#ddd2c2"/>
<rect x="200.1" y="186.5" width="1.9" height="2.2" fill="#9c8b78"/>
<rect x="198.7" y="189.7" width="4.7" height="1.1" fill="#6f675c"/>
<rect x="197.6" y="194.3" width="5.5" height="4.4" fill="#1c1d20"/>
<rect x="198.0" y="192.7" width="4.7" height="5" rx="0.6" fill="#ddd2c2"/>
<rect x="199.4" y="193.9" width="1.9" height="2.2" fill="#9c8b78"/>
<rect x="198.0" y="197.1" width="4.7" height="1.1" fill="#6f675c"/>
<rect x="196.9" y="201.7" width="5.5" height="4.4" fill="#1c1d20"/>
<rect x="197.3" y="200.1" width="4.7" height="5" rx="0.6" fill="#ddd2c2"/>
<rect x="198.7" y="201.3" width="1.9" height="2.2" fill="#9c8b78"/>
<rect x="197.3" y="204.5" width="4.7" height="1.1" fill="#6f675c"/>
<rect x="196.1" y="209.0" width="5.6" height="4.4" fill="#1c1d20"/>
<rect x="196.5" y="207.4" width="4.8" height="5" rx="0.6" fill="#ddd2c2"/>
<rect x="198.0" y="208.6" width="1.9" height="2.2" fill="#9c8b78"/>
<rect x="196.5" y="211.8" width="4.8" height="1.1" fill="#6f675c"/>
<rect x="195.4" y="216.4" width="5.6" height="4.4" fill="#1c1d20"/>
<rect x="195.8" y="214.8" width="4.8" height="5" rx="0.6" fill="#ddd2c2"/>
<rect x="197.3" y="216.0" width="1.9" height="2.2" fill="#9c8b78"/>
<rect x="195.8" y="219.2" width="4.8" height="1.1" fill="#6f675c"/>
<rect x="194.7" y="223.8" width="5.6" height="4.4" fill="#1c1d20"/>
<rect x="195.1" y="222.2" width="4.8" height="5" rx="0.6" fill="#ddd2c2"/>
<rect x="196.5" y="223.4" width="1.9" height="2.2" fill="#9c8b78"/>
<rect x="195.1" y="226.6" width="4.8" height="1.1" fill="#6f675c"/>
<rect x="194.0" y="231.2" width="5.6" height="4.4" fill="#1c1d20"/>
<rect x="194.4" y="229.6" width="4.8" height="5" rx="0.6" fill="#ddd2c2"/>
<rect x="195.8" y="230.8" width="1.9" height="2.2" fill="#9c8b78"/>
<rect x="194.4" y="234.0" width="4.8" height="1.1" fill="#6f675c"/>
<rect x="274.6" y="184.1" width="5.6" height="4.4" fill="#1c1d20"/>
<rect x="275.0" y="182.5" width="4.8" height="5" rx="0.6" fill="#ddd2c2"/>
<rect x="276.4" y="183.7" width="1.9" height="2.2" fill="#9c8b78"/>
<rect x="275.0" y="186.9" width="4.8" height="1.1" fill="#6f675c"/>
<rect x="274.6" y="191.8" width="5.6" height="4.4" fill="#1c1d20"/>
<rect x="275.0" y="190.2" width="4.8" height="5" rx="0.6" fill="#ddd2c2"/>
<rect x="276.5" y="191.4" width="1.9" height="2.2" fill="#9c8b78"/>
<rect x="275.0" y="194.6" width="4.8" height="1.1" fill="#6f675c"/>
<rect x="274.7" y="199.5" width="5.6" height="4.4" fill="#1c1d20"/>
<rect x="275.1" y="197.9" width="4.8" height="5" rx="0.6" fill="#ddd2c2"/>
<rect x="276.5" y="199.1" width="1.9" height="2.2" fill="#9c8b78"/>
<rect x="275.1" y="202.3" width="4.8" height="1.1" fill="#6f675c"/>
<rect x="274.7" y="207.2" width="5.6" height="4.4" fill="#1c1d20"/>
<rect x="275.1" y="205.6" width="4.8" height="5" rx="0.6" fill="#ddd2c2"/>
<rect x="276.5" y="206.8" width="1.9" height="2.2" fill="#9c8b78"/>
<rect x="275.1" y="210.0" width="4.8" height="1.1" fill="#6f675c"/>
<rect x="274.7" y="214.9" width="5.6" height="4.4" fill="#1c1d20"/>
<rect x="275.1" y="213.3" width="4.8" height="5" rx="0.6" fill="#ddd2c2"/>
<rect x="276.5" y="214.5" width="1.9" height="2.2" fill="#9c8b78"/>
<rect x="275.1" y="217.7" width="4.8" height="1.1" fill="#6f675c"/>
<rect x="274.7" y="222.6" width="5.6" height="4.4" fill="#1c1d20"/>
<rect x="275.1" y="221.0" width="4.8" height="5" rx="0.6" fill="#ddd2c2"/>
<rect x="276.6" y="222.2" width="1.9" height="2.2" fill="#9c8b78"/>
<rect x="275.1" y="225.4" width="4.8" height="1.1" fill="#6f675c"/>
<rect x="274.8" y="230.3" width="5.6" height="4.4" fill="#1c1d20"/>
<rect x="275.2" y="228.7" width="4.8" height="5" rx="0.6" fill="#ddd2c2"/>
<rect x="276.6" y="229.9" width="1.9" height="2.2" fill="#9c8b78"/>
<rect x="275.2" y="233.1" width="4.8" height="1.1" fill="#6f675c"/>
<rect x="274.8" y="238.0" width="5.6" height="4.4" fill="#1c1d20"/>
<rect x="275.2" y="236.4" width="4.8" height="5" rx="0.6" fill="#ddd2c2"/>
<rect x="276.6" y="237.6" width="1.9" height="2.2" fill="#9c8b78"/>
<rect x="275.2" y="240.8" width="4.8" height="1.1" fill="#6f675c"/>
<rect x="281.1" y="180.6" width="5.4" height="5" rx="0.6" fill="#ddd2c2"/>
<rect x="282.7" y="181.8" width="2.2" height="2.2" fill="#9c8b78"/>
<rect x="281.1" y="185.0" width="5.4" height="1.1" fill="#6f675c"/>
<rect x="281.1" y="188.2" width="5.4" height="5" rx="0.6" fill="#ddd2c2"/>
<rect x="282.7" y="189.4" width="2.2" height="2.2" fill="#9c8b78"/>
<rect x="281.1" y="192.6" width="5.4" height="1.1" fill="#6f675c"/>
<rect x="281.2" y="195.8" width="5.4" height="5" rx="0.6" fill="#ddd2c2"/>
<rect x="282.8" y="197.0" width="2.2" height="2.2" fill="#9c8b78"/>
<rect x="281.2" y="200.2" width="5.4" height="1.1" fill="#6f675c"/>
<rect x="281.2" y="203.4" width="5.4" height="5" rx="0.6" fill="#ddd2c2"/>
<rect x="282.8" y="204.6" width="2.2" height="2.2" fill="#9c8b78"/>
<rect x="281.2" y="207.8" width="5.4" height="1.1" fill="#6f675c"/>
<rect x="281.3" y="211.0" width="5.4" height="5" rx="0.6" fill="#ddd2c2"/>
<rect x="282.9" y="212.2" width="2.2" height="2.2" fill="#9c8b78"/>
<rect x="281.3" y="215.4" width="5.4" height="1.1" fill="#6f675c"/>
<rect x="281.3" y="218.6" width="5.4" height="5" rx="0.6" fill="#ddd2c2"/>
<rect x="282.9" y="219.8" width="2.2" height="2.2" fill="#9c8b78"/>
<rect x="281.3" y="223.0" width="5.4" height="1.1" fill="#6f675c"/>
<rect x="281.4" y="226.2" width="5.4" height="5" rx="0.6" fill="#ddd2c2"/>
<rect x="283.0" y="227.4" width="2.2" height="2.2" fill="#9c8b78"/>
<rect x="281.4" y="230.6" width="5.4" height="1.1" fill="#6f675c"/>
<rect x="281.4" y="233.8" width="5.4" height="5" rx="0.6" fill="#ddd2c2"/>
<rect x="283.0" y="235.0" width="2.2" height="2.2" fill="#9c8b78"/>
<rect x="281.4" y="238.2" width="5.4" height="1.1" fill="#6f675c"/>
<rect x="209.1" y="183.0" width="4.3" height="4.6" fill="#c4c8cd"/>
<rect x="213.1" y="182.8" width="4.0" height="5" fill="#1b1c1f"/>
<rect x="204.5" y="183.2" width="3.4" height="1.5" fill="#dfe6ee" opacity="0.7"/>
<rect x="204.9" y="185.6" width="2.6" height="1.8" fill="#23252a"/>
<rect x="218.2" y="183.8" width="2.2" height="1.2" fill="#dfe6ee" opacity="0.55"/>
<rect x="208.7" y="191.0" width="4.3" height="4.6" fill="#c4c8cd"/>
<rect x="212.6" y="190.8" width="4.0" height="5" fill="#1b1c1f"/>
<rect x="204.1" y="191.2" width="3.4" height="1.5" fill="#dfe6ee" opacity="0.7"/>
<rect x="204.5" y="193.6" width="2.6" height="1.8" fill="#23252a"/>
<rect x="217.8" y="191.8" width="2.2" height="1.2" fill="#dfe6ee" opacity="0.55"/>
<rect x="208.3" y="199.0" width="4.3" height="4.6" fill="#c4c8cd"/>
<rect x="212.2" y="198.8" width="4.0" height="5" fill="#1b1c1f"/>
<rect x="203.7" y="199.2" width="3.4" height="1.5" fill="#dfe6ee" opacity="0.7"/>
<rect x="204.1" y="201.6" width="2.6" height="1.8" fill="#23252a"/>
<rect x="217.4" y="199.8" width="2.2" height="1.2" fill="#dfe6ee" opacity="0.55"/>
<rect x="207.8" y="207.0" width="4.3" height="4.6" fill="#c4c8cd"/>
<rect x="211.8" y="206.8" width="4.0" height="5" fill="#1b1c1f"/>
<rect x="203.2" y="207.2" width="3.4" height="1.5" fill="#dfe6ee" opacity="0.7"/>
<rect x="203.6" y="209.6" width="2.6" height="1.8" fill="#23252a"/>
<rect x="216.9" y="207.8" width="2.2" height="1.2" fill="#dfe6ee" opacity="0.55"/>
<rect x="207.4" y="215.0" width="4.3" height="4.6" fill="#c4c8cd"/>
<rect x="211.4" y="214.8" width="4.0" height="5" fill="#1b1c1f"/>
<rect x="202.8" y="215.2" width="3.4" height="1.5" fill="#dfe6ee" opacity="0.7"/>
<rect x="203.2" y="217.6" width="2.6" height="1.8" fill="#23252a"/>
<rect x="216.5" y="215.8" width="2.2" height="1.2" fill="#dfe6ee" opacity="0.55"/>
<rect x="207.0" y="223.0" width="4.3" height="4.6" fill="#c4c8cd"/>
<rect x="210.9" y="222.8" width="4.0" height="5" fill="#1b1c1f"/>
<rect x="202.4" y="223.2" width="3.4" height="1.5" fill="#dfe6ee" opacity="0.7"/>
<rect x="202.8" y="225.6" width="2.6" height="1.8" fill="#23252a"/>
<rect x="216.1" y="223.8" width="2.2" height="1.2" fill="#dfe6ee" opacity="0.55"/>
<rect x="262.2" y="183.0" width="4.3" height="4.6" fill="#c4c8cd"/>
<rect x="258.7" y="182.8" width="3.9" height="5" fill="#1b1c1f"/>
<rect x="267.9" y="183.4" width="2.6" height="1.6" fill="#dfe6ee" opacity="0.7"/>
<rect x="268.1" y="185.8" width="2.6" height="1.8" fill="#23252a"/>
<rect x="255.3" y="183.8" width="2.2" height="1.2" fill="#dfe6ee" opacity="0.55"/>
<rect x="262.2" y="191.0" width="4.3" height="4.6" fill="#c4c8cd"/>
<rect x="258.7" y="190.8" width="3.9" height="5" fill="#1b1c1f"/>
<rect x="267.9" y="191.4" width="2.6" height="1.6" fill="#dfe6ee" opacity="0.7"/>
<rect x="268.1" y="193.8" width="2.6" height="1.8" fill="#23252a"/>
<rect x="255.3" y="191.8" width="2.2" height="1.2" fill="#dfe6ee" opacity="0.55"/>
<rect x="262.2" y="199.0" width="4.3" height="4.6" fill="#c4c8cd"/>
<rect x="258.7" y="198.8" width="3.9" height="5" fill="#1b1c1f"/>
<rect x="267.9" y="199.4" width="2.6" height="1.6" fill="#dfe6ee" opacity="0.7"/>
<rect x="268.1" y="201.8" width="2.6" height="1.8" fill="#23252a"/>
<rect x="255.3" y="199.8" width="2.2" height="1.2" fill="#dfe6ee" opacity="0.55"/>
<rect x="262.2" y="207.0" width="4.3" height="4.6" fill="#c4c8cd"/>
<rect x="258.7" y="206.8" width="3.9" height="5" fill="#1b1c1f"/>
<rect x="267.9" y="207.4" width="2.6" height="1.6" fill="#dfe6ee" opacity="0.7"/>
<rect x="268.1" y="209.8" width="2.6" height="1.8" fill="#23252a"/>
<rect x="255.3" y="207.8" width="2.2" height="1.2" fill="#dfe6ee" opacity="0.55"/>
<rect x="262.2" y="215.0" width="4.3" height="4.6" fill="#c4c8cd"/>
<rect x="258.7" y="214.8" width="3.9" height="5" fill="#1b1c1f"/>
<rect x="267.9" y="215.4" width="2.6" height="1.6" fill="#dfe6ee" opacity="0.7"/>
<rect x="268.1" y="217.8" width="2.6" height="1.8" fill="#23252a"/>
<rect x="255.3" y="215.8" width="2.2" height="1.2" fill="#dfe6ee" opacity="0.55"/>
<rect x="262.2" y="223.0" width="4.3" height="4.6" fill="#c4c8cd"/>
<rect x="258.7" y="222.8" width="3.9" height="5" fill="#1b1c1f"/>
<rect x="267.9" y="223.4" width="2.6" height="1.6" fill="#dfe6ee" opacity="0.7"/>
<rect x="268.1" y="225.8" width="2.6" height="1.8" fill="#23252a"/>
<rect x="255.3" y="223.8" width="2.2" height="1.2" fill="#dfe6ee" opacity="0.55"/>
<rect x="237.0" y="182.0" width="5.4" height="5.2" fill="#4a8fdc" />
<rect x="237.0" y="186.2" width="5.4" height="1.2" fill="#1d4f94" />
<rect x="243.5" y="181.0" width="7.0" height="1.2" fill="#dfe8f2" opacity="0.7"/>
<rect x="243.5" y="183.6" width="5.0" height="1.0" fill="#dfe8f2" opacity="0.6"/>
<rect x="226.0" y="181.5" width="5.0" height="1.0" fill="#dfe8f2" opacity="0.6"/>
<path d="M226.0 189.2 L229.2 192.6 L223.0 192.6 Z" fill="#d5d8dc"/>
<rect x="223.0" y="191.6" width="6.2" height="2.6" fill="#17181a" />
<rect x="224.6" y="194.2" width="3.0" height="1.8" fill="#cfd3d8" />
<path d="M250.4 189.2 L253.6 192.6 L247.4 192.6 Z" fill="#d5d8dc"/>
<rect x="247.4" y="191.6" width="6.2" height="2.6" fill="#17181a" />
<rect x="249.0" y="194.2" width="3.0" height="1.8" fill="#cfd3d8" />
<path d="M225.2 208.4 L228.4 211.8 L222.2 211.8 Z" fill="#d5d8dc"/>
<rect x="222.2" y="210.8" width="6.2" height="2.6" fill="#17181a" />
<rect x="223.8" y="213.4" width="3.0" height="1.8" fill="#cfd3d8" />
<path d="M249.5 208.4 L252.7 211.8 L246.5 211.8 Z" fill="#d5d8dc"/>
<rect x="246.5" y="210.8" width="6.2" height="2.6" fill="#17181a" />
<rect x="248.1" y="213.4" width="3.0" height="1.8" fill="#cfd3d8" />
<rect x="233.5" y="196.0" width="5.4" height="6.0" fill="#141517" />
<rect x="233.5" y="205.8" width="6.0" height="5.8" fill="#141517" />
<rect x="240.5" y="199.0" width="3.2" height="4.6" fill="#c9cdd2" />
<rect x="240.3" y="207.0" width="4.4" height="5.0" fill="#e8e4dc" />
<rect x="231.5" y="203.0" width="3.0" height="1.6" fill="#d6dbe2" opacity="0.8"/>
<rect x="224.6" y="216.0" width="5.6" height="7.0" fill="#121314" rx="1"/>
<rect x="237.0" y="215.0" width="5.4" height="7.0" fill="#121314" rx="1"/>
<circle cx="231.7" cy="222.3" r="3.2" fill="#1a1b1d"/><circle cx="231.5" cy="221.8" r="2.5" fill="#d9dde2"/><path d="M229.2 221.8 A2.5 2.5 0 0 1 231.5 219.3 L231.5 221.8 Z" fill="#4a4d52"/>
<circle cx="246.6" cy="220.9" r="2.7" fill="#1a1b1d"/><circle cx="246.5" cy="220.4" r="2.1" fill="#dde0e5"/><path d="M244.4 220.4 A2.1 2.1 0 0 1 246.5 218.3 L246.5 220.4 Z" fill="#4a4d52"/>
<rect x="231.0" y="230.0" width="5.8" height="1.8" fill="#e9e4da" />
<rect x="231.0" y="231.6" width="5.8" height="2.8" fill="#17181a" />
<rect x="238.0" y="234.5" width="7.0" height="1.0" fill="#dfe8f2" opacity="0.6"/>
<rect x="229.0" y="212.5" width="3.0" height="2.0" fill="#1a1b1d" />
<rect x="243.5" y="213.0" width="3.4" height="2.0" fill="#d9dde2" />
<rect x="228.0" y="200.0" width="3.0" height="1.6" fill="#1a1b1d" />
<rect x="244.6" y="196.4" width="2.6" height="2.0" fill="#1a1b1d" />
<rect x="236.6" y="190.2" width="3.0" height="2.2" fill="#22252a" />
<rect x="241.4" y="225.6" width="3.4" height="2.6" fill="#1a1b1d" />
<rect x="210.1" y="173.6" width="5.0" height="6.2" rx="2.0" fill="#b4b8bd"/>
<ellipse cx="212.6" cy="174.8" rx="2.4" ry="1.2" fill="#8a8e94"/>
<ellipse cx="212.2" cy="176.4" rx="1.2" ry="1.4" fill="#e3e6e9"/>
<rect x="210.6" y="179" width="4" height="1.8" fill="#22252a"/>
<rect x="222.3" y="173.6" width="5.0" height="6.2" rx="2.0" fill="#b4b8bd"/>
<ellipse cx="224.8" cy="174.8" rx="2.4" ry="1.2" fill="#8a8e94"/>
<ellipse cx="224.4" cy="176.4" rx="1.2" ry="1.4" fill="#e3e6e9"/>
<rect x="222.8" y="179" width="4" height="1.8" fill="#22252a"/>
<rect x="237.6" y="174.8" width="4.0" height="5.0" rx="1.6" fill="#b4b8bd"/>
<ellipse cx="239.6" cy="176.0" rx="1.9" ry="1.0" fill="#8a8e94"/>
<ellipse cx="239.2" cy="177.6" rx="1.0" ry="1.1" fill="#e3e6e9"/>
<rect x="237.6" y="179" width="4" height="1.8" fill="#22252a"/>
<rect x="257.1" y="173.6" width="5.0" height="6.2" rx="2.0" fill="#b4b8bd"/>
<ellipse cx="259.6" cy="174.8" rx="2.4" ry="1.2" fill="#8a8e94"/>
<ellipse cx="259.2" cy="176.4" rx="1.2" ry="1.4" fill="#e3e6e9"/>
<rect x="257.6" y="179" width="4" height="1.8" fill="#22252a"/>
<rect x="268.4" y="173.6" width="5.0" height="6.2" rx="2.0" fill="#b4b8bd"/>
<ellipse cx="270.9" cy="174.8" rx="2.4" ry="1.2" fill="#8a8e94"/>
<ellipse cx="270.5" cy="176.4" rx="1.2" ry="1.4" fill="#e3e6e9"/>
<rect x="268.9" y="179" width="4" height="1.8" fill="#22252a"/>
<rect x="189.5" y="234.7" width="8.099999999999994" height="8.6" fill="#5cc362"/>
<rect x="189.5" y="234.7" width="8.099999999999994" height="2.6" fill="#a9e6a6"/>
<rect x="190.5" y="238.6" width="2.549999999999997" height="3" fill="#3b9445"/><rect x="194.05" y="238.6" width="2.549999999999997" height="3" fill="#3b9445"/>
<rect x="201.3" y="239.2" width="4.399999999999977" height="4.2" rx="0.6" fill="#efe8dc"/>
<rect x="202.3" y="240.3" width="2.3999999999999773" height="1.9" fill="#a3927c"/>
<rect x="207" y="239.2" width="8.599999999999994" height="4.2" rx="0.6" fill="#efe8dc"/>
<rect x="208" y="240.3" width="6.599999999999994" height="1.9" fill="#a3927c"/>
<rect x="240.1" y="239.2" width="5.0" height="4.2" rx="0.6" fill="#efe8dc"/>
<rect x="241.1" y="240.3" width="3.0" height="1.9" fill="#a3927c"/>
<rect x="259.9" y="239.2" width="7.800000000000011" height="4.2" rx="0.6" fill="#efe8dc"/>
<rect x="260.9" y="240.3" width="5.800000000000011" height="1.9" fill="#a3927c"/>
<rect x="218.3" y="230.9" width="10.299999999999983" height="13.2" fill="#b4b8bc"/>
<rect x="219.10000000000002" y="231.6" width="8.699999999999983" height="6.6" fill="#cfd2d5"/>
<rect x="219.10000000000002" y="239" width="8.699999999999983" height="4.6" fill="#23262a"/>
<rect x="219.9" y="238.2" width="7.099999999999983" height="1" fill="#8b8f94"/>
<rect x="247" y="230.9" width="10.300000000000011" height="13.2" fill="#b4b8bc"/>
<rect x="247.8" y="231.6" width="8.700000000000012" height="6.6" fill="#cfd2d5"/>
<rect x="247.8" y="239" width="8.700000000000012" height="4.6" fill="#23262a"/>
<rect x="248.6" y="238.2" width="7.100000000000011" height="1" fill="#8b8f94"/>
<circle cx="176.8" cy="242.3" r="1.7" fill="#cfd4da"/><circle cx="176.8" cy="242.3" r="0.8" fill="#5b6470"/>
<circle cx="235.8" cy="242.4" r="1.7" fill="#cfd4da"/><circle cx="235.8" cy="242.4" r="0.8" fill="#5b6470"/>
<circle cx="298" cy="242.3" r="1.7" fill="#cfd4da"/><circle cx="298" cy="242.3" r="0.8" fill="#5b6470"/>
<circle cx="186.5" cy="179" r="1.7" fill="#cfd4da"/><circle cx="186.5" cy="179" r="0.8" fill="#5b6470"/>
<circle cx="297.8" cy="178.6" r="1.7" fill="#cfd4da"/><circle cx="297.8" cy="178.6" r="0.8" fill="#5b6470"/>
</g>
<g>
<path d="M309.6 177.0 L428.7 177.0 L437.4 245.0 L308.7 245.0 Z" fill="#1b68b6"/>
<path d="M308.7 243.8 L437.4 243.8 L437.4 245.0 L308.7 245.0 Z" fill="#154f92"/>
<rect x="348.8" y="179.0" width="39.80000000000001" height="52.0" fill="#1a62ad" opacity="0.55"/>
<path d="M309.8 178.7 L313.7 178.7 L313.4 239.6 L309.4 239.6 Z" fill="#cdbfa8"/>
<rect x="310.7" y="180.1" width="2.1" height="1.5" fill="#6d6a66" opacity="0.85"/>
<rect x="309.8" y="181.8" width="3.9" height="0.6" fill="#a89a84"/>
<rect x="310.7" y="184.2" width="2.1" height="1.5" fill="#6d6a66" opacity="0.85"/>
<rect x="309.8" y="185.9" width="3.9" height="0.6" fill="#a89a84"/>
<rect x="310.6" y="188.2" width="2.1" height="1.5" fill="#6d6a66" opacity="0.85"/>
<rect x="309.7" y="189.9" width="3.9" height="0.6" fill="#a89a84"/>
<rect x="310.6" y="192.3" width="2.1" height="1.5" fill="#6d6a66" opacity="0.85"/>
<rect x="309.7" y="194.0" width="3.9" height="0.6" fill="#a89a84"/>
<rect x="310.6" y="196.4" width="2.1" height="1.5" fill="#6d6a66" opacity="0.85"/>
<rect x="309.7" y="198.1" width="3.9" height="0.6" fill="#a89a84"/>
<rect x="310.6" y="200.4" width="2.1" height="1.5" fill="#6d6a66" opacity="0.85"/>
<rect x="309.7" y="202.1" width="3.9" height="0.6" fill="#a89a84"/>
<rect x="310.5" y="204.5" width="2.1" height="1.5" fill="#6d6a66" opacity="0.85"/>
<rect x="309.6" y="206.2" width="3.9" height="0.6" fill="#a89a84"/>
<rect x="310.5" y="208.5" width="2.1" height="1.5" fill="#6d6a66" opacity="0.85"/>
<rect x="309.6" y="210.2" width="3.9" height="0.6" fill="#a89a84"/>
<rect x="310.5" y="212.6" width="2.2" height="1.5" fill="#6d6a66" opacity="0.85"/>
<rect x="309.6" y="214.3" width="4.0" height="0.6" fill="#a89a84"/>
<rect x="310.4" y="216.7" width="2.2" height="1.5" fill="#6d6a66" opacity="0.85"/>
<rect x="309.5" y="218.4" width="4.0" height="0.6" fill="#a89a84"/>
<rect x="310.4" y="220.7" width="2.2" height="1.5" fill="#6d6a66" opacity="0.85"/>
<rect x="309.5" y="222.4" width="4.0" height="0.6" fill="#a89a84"/>
<rect x="310.4" y="224.8" width="2.2" height="1.5" fill="#6d6a66" opacity="0.85"/>
<rect x="309.5" y="226.5" width="4.0" height="0.6" fill="#a89a84"/>
<rect x="310.4" y="228.8" width="2.2" height="1.5" fill="#6d6a66" opacity="0.85"/>
<rect x="309.5" y="230.5" width="4.0" height="0.6" fill="#a89a84"/>
<rect x="310.3" y="232.9" width="2.2" height="1.5" fill="#6d6a66" opacity="0.85"/>
<rect x="309.4" y="234.6" width="4.0" height="0.6" fill="#a89a84"/>
<rect x="310.3" y="237.0" width="2.2" height="1.5" fill="#6d6a66" opacity="0.85"/>
<rect x="309.4" y="238.7" width="4.0" height="0.6" fill="#a89a84"/>
<path d="M315.7 179.6 L319.5 179.6 L319.5 237.8 L315.7 237.8 Z" fill="#cdbfa8"/>
<rect x="316.6" y="181.1" width="2.0" height="1.5" fill="#6d6a66" opacity="0.85"/>
<rect x="315.7" y="182.8" width="3.8" height="0.6" fill="#a89a84"/>
<rect x="316.6" y="185.2" width="2.0" height="1.5" fill="#6d6a66" opacity="0.85"/>
<rect x="315.7" y="186.9" width="3.8" height="0.6" fill="#a89a84"/>
<rect x="316.6" y="189.4" width="2.0" height="1.5" fill="#6d6a66" opacity="0.85"/>
<rect x="315.7" y="191.1" width="3.8" height="0.6" fill="#a89a84"/>
<rect x="316.6" y="193.6" width="2.0" height="1.5" fill="#6d6a66" opacity="0.85"/>
<rect x="315.7" y="195.2" width="3.8" height="0.6" fill="#a89a84"/>
<rect x="316.6" y="197.7" width="2.0" height="1.5" fill="#6d6a66" opacity="0.85"/>
<rect x="315.7" y="199.4" width="3.8" height="0.6" fill="#a89a84"/>
<rect x="316.6" y="201.9" width="2.0" height="1.5" fill="#6d6a66" opacity="0.85"/>
<rect x="315.7" y="203.6" width="3.8" height="0.6" fill="#a89a84"/>
<rect x="316.6" y="206.0" width="2.0" height="1.5" fill="#6d6a66" opacity="0.85"/>
<rect x="315.7" y="207.7" width="3.8" height="0.6" fill="#a89a84"/>
<rect x="316.6" y="210.2" width="2.0" height="1.5" fill="#6d6a66" opacity="0.85"/>
<rect x="315.7" y="211.9" width="3.8" height="0.6" fill="#a89a84"/>
<rect x="316.6" y="214.3" width="2.0" height="1.5" fill="#6d6a66" opacity="0.85"/>
<rect x="315.7" y="216.0" width="3.8" height="0.6" fill="#a89a84"/>
<rect x="316.6" y="218.5" width="2.0" height="1.5" fill="#6d6a66" opacity="0.85"/>
<rect x="315.7" y="220.2" width="3.8" height="0.6" fill="#a89a84"/>
<rect x="316.6" y="222.7" width="2.0" height="1.5" fill="#6d6a66" opacity="0.85"/>
<rect x="315.7" y="224.3" width="3.8" height="0.6" fill="#a89a84"/>
<rect x="316.6" y="226.8" width="2.0" height="1.5" fill="#6d6a66" opacity="0.85"/>
<rect x="315.7" y="228.5" width="3.8" height="0.6" fill="#a89a84"/>
<rect x="316.6" y="231.0" width="2.0" height="1.5" fill="#6d6a66" opacity="0.85"/>
<rect x="315.7" y="232.7" width="3.8" height="0.6" fill="#a89a84"/>
<rect x="316.6" y="235.1" width="2.0" height="1.5" fill="#6d6a66" opacity="0.85"/>
<rect x="315.7" y="236.8" width="3.8" height="0.6" fill="#a89a84"/>
<path d="M418.3 179.6 L421.8 179.6 L429.7 237.8 L426.1 237.8 Z" fill="#cdbfa8"/>
<rect x="419.5" y="181.1" width="1.7" height="1.5" fill="#6d6a66" opacity="0.85"/>
<rect x="418.6" y="182.8" width="3.5" height="0.6" fill="#a89a84"/>
<rect x="420.0" y="185.2" width="1.7" height="1.5" fill="#6d6a66" opacity="0.85"/>
<rect x="419.1" y="186.9" width="3.5" height="0.6" fill="#a89a84"/>
<rect x="420.6" y="189.4" width="1.7" height="1.5" fill="#6d6a66" opacity="0.85"/>
<rect x="419.7" y="191.1" width="3.5" height="0.6" fill="#a89a84"/>
<rect x="421.1" y="193.6" width="1.7" height="1.5" fill="#6d6a66" opacity="0.85"/>
<rect x="420.2" y="195.2" width="3.5" height="0.6" fill="#a89a84"/>
<rect x="421.7" y="197.7" width="1.7" height="1.5" fill="#6d6a66" opacity="0.85"/>
<rect x="420.8" y="199.4" width="3.5" height="0.6" fill="#a89a84"/>
<rect x="422.3" y="201.9" width="1.7" height="1.5" fill="#6d6a66" opacity="0.85"/>
<rect x="421.4" y="203.6" width="3.5" height="0.6" fill="#a89a84"/>
<rect x="422.8" y="206.0" width="1.7" height="1.5" fill="#6d6a66" opacity="0.85"/>
<rect x="421.9" y="207.7" width="3.5" height="0.6" fill="#a89a84"/>
<rect x="423.4" y="210.2" width="1.8" height="1.5" fill="#6d6a66" opacity="0.85"/>
<rect x="422.5" y="211.9" width="3.6" height="0.6" fill="#a89a84"/>
<rect x="423.9" y="214.3" width="1.8" height="1.5" fill="#6d6a66" opacity="0.85"/>
<rect x="423.0" y="216.0" width="3.6" height="0.6" fill="#a89a84"/>
<rect x="424.5" y="218.5" width="1.8" height="1.5" fill="#6d6a66" opacity="0.85"/>
<rect x="423.6" y="220.2" width="3.6" height="0.6" fill="#a89a84"/>
<rect x="425.1" y="222.7" width="1.8" height="1.5" fill="#6d6a66" opacity="0.85"/>
<rect x="424.2" y="224.3" width="3.6" height="0.6" fill="#a89a84"/>
<rect x="425.6" y="226.8" width="1.8" height="1.5" fill="#6d6a66" opacity="0.85"/>
<rect x="424.7" y="228.5" width="3.6" height="0.6" fill="#a89a84"/>
<rect x="426.2" y="231.0" width="1.8" height="1.5" fill="#6d6a66" opacity="0.85"/>
<rect x="425.3" y="232.7" width="3.6" height="0.6" fill="#a89a84"/>
<rect x="426.7" y="235.1" width="1.8" height="1.5" fill="#6d6a66" opacity="0.85"/>
<rect x="425.8" y="236.8" width="3.6" height="0.6" fill="#a89a84"/>
<path d="M424.3 177.8 L428.3 177.8 L436.5 238.7 L432.2 238.7 Z" fill="#cdbfa8"/>
<rect x="425.5" y="179.2" width="2.2" height="1.5" fill="#6d6a66" opacity="0.85"/>
<rect x="424.6" y="180.9" width="4.0" height="0.6" fill="#a89a84"/>
<rect x="426.0" y="183.3" width="2.2" height="1.5" fill="#6d6a66" opacity="0.85"/>
<rect x="425.1" y="185.0" width="4.0" height="0.6" fill="#a89a84"/>
<rect x="426.5" y="187.4" width="2.3" height="1.5" fill="#6d6a66" opacity="0.85"/>
<rect x="425.6" y="189.1" width="4.1" height="0.6" fill="#a89a84"/>
<rect x="427.0" y="191.4" width="2.3" height="1.5" fill="#6d6a66" opacity="0.85"/>
<rect x="426.1" y="193.1" width="4.1" height="0.6" fill="#a89a84"/>
<rect x="427.6" y="195.5" width="2.3" height="1.5" fill="#6d6a66" opacity="0.85"/>
<rect x="426.7" y="197.2" width="4.1" height="0.6" fill="#a89a84"/>
<rect x="428.1" y="199.5" width="2.3" height="1.5" fill="#6d6a66" opacity="0.85"/>
<rect x="427.2" y="201.2" width="4.1" height="0.6" fill="#a89a84"/>
<rect x="428.6" y="203.6" width="2.3" height="1.5" fill="#6d6a66" opacity="0.85"/>
<rect x="427.7" y="205.3" width="4.1" height="0.6" fill="#a89a84"/>
<rect x="429.1" y="207.7" width="2.3" height="1.5" fill="#6d6a66" opacity="0.85"/>
<rect x="428.2" y="209.3" width="4.1" height="0.6" fill="#a89a84"/>
<rect x="429.7" y="211.7" width="2.4" height="1.5" fill="#6d6a66" opacity="0.85"/>
<rect x="428.8" y="213.4" width="4.2" height="0.6" fill="#a89a84"/>
<rect x="430.2" y="215.8" width="2.4" height="1.5" fill="#6d6a66" opacity="0.85"/>
<rect x="429.3" y="217.5" width="4.2" height="0.6" fill="#a89a84"/>
<rect x="430.7" y="219.8" width="2.4" height="1.5" fill="#6d6a66" opacity="0.85"/>
<rect x="429.8" y="221.5" width="4.2" height="0.6" fill="#a89a84"/>
<rect x="431.3" y="223.9" width="2.4" height="1.5" fill="#6d6a66" opacity="0.85"/>
<rect x="430.4" y="225.6" width="4.2" height="0.6" fill="#a89a84"/>
<rect x="431.8" y="228.0" width="2.5" height="1.5" fill="#6d6a66" opacity="0.85"/>
<rect x="430.9" y="229.7" width="4.2" height="0.6" fill="#a89a84"/>
<rect x="432.3" y="232.0" width="2.5" height="1.5" fill="#6d6a66" opacity="0.85"/>
<rect x="431.4" y="233.7" width="4.3" height="0.6" fill="#a89a84"/>
<rect x="432.8" y="236.1" width="2.5" height="1.5" fill="#6d6a66" opacity="0.85"/>
<rect x="431.9" y="237.8" width="4.3" height="0.6" fill="#a89a84"/>
<rect x="322.4" y="179.6" width="4.8" height="5" rx="0.6" fill="#ddd2c2"/>
<rect x="323.8" y="180.8" width="1.9" height="2.2" fill="#9c8b78"/>
<rect x="322.4" y="184.0" width="4.8" height="1.1" fill="#6f675c"/>
<rect x="322.4" y="187.0" width="4.8" height="5" rx="0.6" fill="#ddd2c2"/>
<rect x="323.8" y="188.2" width="1.9" height="2.2" fill="#9c8b78"/>
<rect x="322.4" y="191.4" width="4.8" height="1.1" fill="#6f675c"/>
<rect x="322.4" y="194.5" width="4.8" height="5" rx="0.6" fill="#ddd2c2"/>
<rect x="323.8" y="195.7" width="1.9" height="2.2" fill="#9c8b78"/>
<rect x="322.4" y="198.9" width="4.8" height="1.1" fill="#6f675c"/>
<rect x="322.4" y="201.9" width="4.8" height="5" rx="0.6" fill="#ddd2c2"/>
<rect x="323.8" y="203.1" width="1.9" height="2.2" fill="#9c8b78"/>
<rect x="322.4" y="206.3" width="4.8" height="1.1" fill="#6f675c"/>
<rect x="322.4" y="209.3" width="4.8" height="5" rx="0.6" fill="#ddd2c2"/>
<rect x="323.8" y="210.5" width="1.9" height="2.2" fill="#9c8b78"/>
<rect x="322.4" y="213.7" width="4.8" height="1.1" fill="#6f675c"/>
<rect x="322.4" y="216.7" width="4.8" height="5" rx="0.6" fill="#ddd2c2"/>
<rect x="323.8" y="217.9" width="1.9" height="2.2" fill="#9c8b78"/>
<rect x="322.4" y="221.1" width="4.8" height="1.1" fill="#6f675c"/>
<rect x="322.4" y="224.2" width="4.8" height="5" rx="0.6" fill="#ddd2c2"/>
<rect x="323.8" y="225.4" width="1.9" height="2.2" fill="#9c8b78"/>
<rect x="322.4" y="228.6" width="4.8" height="1.1" fill="#6f675c"/>
<rect x="322.4" y="231.6" width="4.8" height="5" rx="0.6" fill="#ddd2c2"/>
<rect x="323.8" y="232.8" width="1.9" height="2.2" fill="#9c8b78"/>
<rect x="322.4" y="236.0" width="4.8" height="1.1" fill="#6f675c"/>
<rect x="328.4" y="179.5" width="5.8" height="4.4" fill="#1c1d20"/>
<rect x="328.8" y="177.9" width="5.0" height="5" rx="0.6" fill="#ddd2c2"/>
<rect x="330.3" y="179.1" width="2.0" height="2.2" fill="#9c8b78"/>
<rect x="328.8" y="182.3" width="5.0" height="1.1" fill="#6f675c"/>
<rect x="328.5" y="186.9" width="5.8" height="4.4" fill="#1c1d20"/>
<rect x="328.9" y="185.3" width="5.0" height="5" rx="0.6" fill="#ddd2c2"/>
<rect x="330.4" y="186.5" width="2.0" height="2.2" fill="#9c8b78"/>
<rect x="328.9" y="189.7" width="5.0" height="1.1" fill="#6f675c"/>
<rect x="328.5" y="194.3" width="5.8" height="4.4" fill="#1c1d20"/>
<rect x="328.9" y="192.7" width="5.0" height="5" rx="0.6" fill="#ddd2c2"/>
<rect x="330.4" y="193.9" width="2.0" height="2.2" fill="#9c8b78"/>
<rect x="328.9" y="197.1" width="5.0" height="1.1" fill="#6f675c"/>
<rect x="328.6" y="201.7" width="5.8" height="4.4" fill="#1c1d20"/>
<rect x="329.0" y="200.1" width="5.0" height="5" rx="0.6" fill="#ddd2c2"/>
<rect x="330.5" y="201.3" width="2.0" height="2.2" fill="#9c8b78"/>
<rect x="329.0" y="204.5" width="5.0" height="1.1" fill="#6f675c"/>
<rect x="328.7" y="209.0" width="5.7" height="4.4" fill="#1c1d20"/>
<rect x="329.1" y="207.4" width="4.9" height="5" rx="0.6" fill="#ddd2c2"/>
<rect x="330.6" y="208.6" width="2.0" height="2.2" fill="#9c8b78"/>
<rect x="329.1" y="211.8" width="4.9" height="1.1" fill="#6f675c"/>
<rect x="328.8" y="216.4" width="5.7" height="4.4" fill="#1c1d20"/>
<rect x="329.2" y="214.8" width="4.9" height="5" rx="0.6" fill="#ddd2c2"/>
<rect x="330.6" y="216.0" width="2.0" height="2.2" fill="#9c8b78"/>
<rect x="329.2" y="219.2" width="4.9" height="1.1" fill="#6f675c"/>
<rect x="328.8" y="223.8" width="5.7" height="4.4" fill="#1c1d20"/>
<rect x="329.2" y="222.2" width="4.9" height="5" rx="0.6" fill="#ddd2c2"/>
<rect x="330.7" y="223.4" width="2.0" height="2.2" fill="#9c8b78"/>
<rect x="329.2" y="226.6" width="4.9" height="1.1" fill="#6f675c"/>
<rect x="328.9" y="231.2" width="5.7" height="4.4" fill="#1c1d20"/>
<rect x="329.3" y="229.6" width="4.9" height="5" rx="0.6" fill="#ddd2c2"/>
<rect x="330.8" y="230.8" width="2.0" height="2.2" fill="#9c8b78"/>
<rect x="329.3" y="234.0" width="4.9" height="1.1" fill="#6f675c"/>
<rect x="403.7" y="184.1" width="5.6" height="4.4" fill="#1c1d20"/>
<rect x="404.1" y="182.5" width="4.8" height="5" rx="0.6" fill="#ddd2c2"/>
<rect x="405.5" y="183.7" width="1.9" height="2.2" fill="#9c8b78"/>
<rect x="404.1" y="186.9" width="4.8" height="1.1" fill="#6f675c"/>
<rect x="404.6" y="191.8" width="5.6" height="4.4" fill="#1c1d20"/>
<rect x="405.0" y="190.2" width="4.8" height="5" rx="0.6" fill="#ddd2c2"/>
<rect x="406.4" y="191.4" width="1.9" height="2.2" fill="#9c8b78"/>
<rect x="405.0" y="194.6" width="4.8" height="1.1" fill="#6f675c"/>
<rect x="405.4" y="199.5" width="5.6" height="4.4" fill="#1c1d20"/>
<rect x="405.8" y="197.9" width="4.8" height="5" rx="0.6" fill="#ddd2c2"/>
<rect x="407.3" y="199.1" width="1.9" height="2.2" fill="#9c8b78"/>
<rect x="405.8" y="202.3" width="4.8" height="1.1" fill="#6f675c"/>
<rect x="406.3" y="207.2" width="5.6" height="4.4" fill="#1c1d20"/>
<rect x="406.7" y="205.6" width="4.8" height="5" rx="0.6" fill="#ddd2c2"/>
<rect x="408.1" y="206.8" width="1.9" height="2.2" fill="#9c8b78"/>
<rect x="406.7" y="210.0" width="4.8" height="1.1" fill="#6f675c"/>
<rect x="407.2" y="214.9" width="5.6" height="4.4" fill="#1c1d20"/>
<rect x="407.6" y="213.3" width="4.8" height="5" rx="0.6" fill="#ddd2c2"/>
<rect x="409.0" y="214.5" width="1.9" height="2.2" fill="#9c8b78"/>
<rect x="407.6" y="217.7" width="4.8" height="1.1" fill="#6f675c"/>
<rect x="408.1" y="222.6" width="5.6" height="4.4" fill="#1c1d20"/>
<rect x="408.5" y="221.0" width="4.8" height="5" rx="0.6" fill="#ddd2c2"/>
<rect x="409.9" y="222.2" width="1.9" height="2.2" fill="#9c8b78"/>
<rect x="408.5" y="225.4" width="4.8" height="1.1" fill="#6f675c"/>
<rect x="408.9" y="230.3" width="5.6" height="4.4" fill="#1c1d20"/>
<rect x="409.3" y="228.7" width="4.8" height="5" rx="0.6" fill="#ddd2c2"/>
<rect x="410.8" y="229.9" width="1.9" height="2.2" fill="#9c8b78"/>
<rect x="409.3" y="233.1" width="4.8" height="1.1" fill="#6f675c"/>
<rect x="409.8" y="238.0" width="5.6" height="4.4" fill="#1c1d20"/>
<rect x="410.2" y="236.4" width="4.8" height="5" rx="0.6" fill="#ddd2c2"/>
<rect x="411.6" y="237.6" width="1.9" height="2.2" fill="#9c8b78"/>
<rect x="410.2" y="240.8" width="4.8" height="1.1" fill="#6f675c"/>
<rect x="411.1" y="180.6" width="5.3" height="5" rx="0.6" fill="#ddd2c2"/>
<rect x="412.7" y="181.8" width="2.2" height="2.2" fill="#9c8b78"/>
<rect x="411.1" y="185.0" width="5.3" height="1.1" fill="#6f675c"/>
<rect x="412.0" y="188.2" width="5.3" height="5" rx="0.6" fill="#ddd2c2"/>
<rect x="413.6" y="189.4" width="2.2" height="2.2" fill="#9c8b78"/>
<rect x="412.0" y="192.6" width="5.3" height="1.1" fill="#6f675c"/>
<rect x="412.8" y="195.8" width="5.4" height="5" rx="0.6" fill="#ddd2c2"/>
<rect x="414.4" y="197.0" width="2.2" height="2.2" fill="#9c8b78"/>
<rect x="412.8" y="200.2" width="5.4" height="1.1" fill="#6f675c"/>
<rect x="413.7" y="203.4" width="5.4" height="5" rx="0.6" fill="#ddd2c2"/>
<rect x="415.3" y="204.6" width="2.2" height="2.2" fill="#9c8b78"/>
<rect x="413.7" y="207.8" width="5.4" height="1.1" fill="#6f675c"/>
<rect x="414.6" y="211.0" width="5.5" height="5" rx="0.6" fill="#ddd2c2"/>
<rect x="416.2" y="212.2" width="2.2" height="2.2" fill="#9c8b78"/>
<rect x="414.6" y="215.4" width="5.5" height="1.1" fill="#6f675c"/>
<rect x="415.5" y="218.6" width="5.5" height="5" rx="0.6" fill="#ddd2c2"/>
<rect x="417.1" y="219.8" width="2.3" height="2.2" fill="#9c8b78"/>
<rect x="415.5" y="223.0" width="5.5" height="1.1" fill="#6f675c"/>
<rect x="416.3" y="226.2" width="5.6" height="5" rx="0.6" fill="#ddd2c2"/>
<rect x="418.0" y="227.4" width="2.3" height="2.2" fill="#9c8b78"/>
<rect x="416.3" y="230.6" width="5.6" height="1.1" fill="#6f675c"/>
<rect x="417.2" y="233.8" width="5.6" height="5" rx="0.6" fill="#ddd2c2"/>
<rect x="418.9" y="235.0" width="2.3" height="2.2" fill="#9c8b78"/>
<rect x="417.2" y="238.2" width="5.6" height="1.1" fill="#6f675c"/>
<rect x="339.1" y="183.0" width="4.8" height="4.6" fill="#c4c8cd"/>
<rect x="343.5" y="182.8" width="4.3" height="5" fill="#1b1c1f"/>
<rect x="334.5" y="183.2" width="3.4" height="1.5" fill="#dfe6ee" opacity="0.7"/>
<rect x="334.9" y="185.6" width="2.6" height="1.8" fill="#23252a"/>
<rect x="349.0" y="183.8" width="2.2" height="1.2" fill="#dfe6ee" opacity="0.55"/>
<rect x="339.1" y="191.0" width="4.8" height="4.6" fill="#c4c8cd"/>
<rect x="343.5" y="190.8" width="4.3" height="5" fill="#1b1c1f"/>
<rect x="334.5" y="191.2" width="3.4" height="1.5" fill="#dfe6ee" opacity="0.7"/>
<rect x="334.9" y="193.6" width="2.6" height="1.8" fill="#23252a"/>
<rect x="349.0" y="191.8" width="2.2" height="1.2" fill="#dfe6ee" opacity="0.55"/>
<rect x="339.1" y="199.0" width="4.8" height="4.6" fill="#c4c8cd"/>
<rect x="343.5" y="198.8" width="4.3" height="5" fill="#1b1c1f"/>
<rect x="334.5" y="199.2" width="3.4" height="1.5" fill="#dfe6ee" opacity="0.7"/>
<rect x="334.9" y="201.6" width="2.6" height="1.8" fill="#23252a"/>
<rect x="349.0" y="199.8" width="2.2" height="1.2" fill="#dfe6ee" opacity="0.55"/>
<rect x="339.1" y="207.0" width="4.8" height="4.6" fill="#c4c8cd"/>
<rect x="343.5" y="206.8" width="4.3" height="5" fill="#1b1c1f"/>
<rect x="334.5" y="207.2" width="3.4" height="1.5" fill="#dfe6ee" opacity="0.7"/>
<rect x="334.9" y="209.6" width="2.6" height="1.8" fill="#23252a"/>
<rect x="349.0" y="207.8" width="2.2" height="1.2" fill="#dfe6ee" opacity="0.55"/>
<rect x="339.1" y="215.0" width="4.8" height="4.6" fill="#c4c8cd"/>
<rect x="343.5" y="214.8" width="4.3" height="5" fill="#1b1c1f"/>
<rect x="334.5" y="215.2" width="3.4" height="1.5" fill="#dfe6ee" opacity="0.7"/>
<rect x="334.9" y="217.6" width="2.6" height="1.8" fill="#23252a"/>
<rect x="349.0" y="215.8" width="2.2" height="1.2" fill="#dfe6ee" opacity="0.55"/>
<rect x="339.1" y="223.0" width="4.8" height="4.6" fill="#c4c8cd"/>
<rect x="343.5" y="222.8" width="4.3" height="5" fill="#1b1c1f"/>
<rect x="334.5" y="223.2" width="3.4" height="1.5" fill="#dfe6ee" opacity="0.7"/>
<rect x="334.9" y="225.6" width="2.6" height="1.8" fill="#23252a"/>
<rect x="349.0" y="223.8" width="2.2" height="1.2" fill="#dfe6ee" opacity="0.55"/>
<rect x="393.1" y="183.0" width="4.3" height="4.6" fill="#c4c8cd"/>
<rect x="389.6" y="182.8" width="3.9" height="5" fill="#1b1c1f"/>
<rect x="398.8" y="183.4" width="2.6" height="1.6" fill="#dfe6ee" opacity="0.7"/>
<rect x="399.0" y="185.8" width="2.6" height="1.8" fill="#23252a"/>
<rect x="386.2" y="183.8" width="2.2" height="1.2" fill="#dfe6ee" opacity="0.55"/>
<rect x="393.5" y="191.0" width="4.3" height="4.6" fill="#c4c8cd"/>
<rect x="390.0" y="190.8" width="3.9" height="5" fill="#1b1c1f"/>
<rect x="399.2" y="191.4" width="2.6" height="1.6" fill="#dfe6ee" opacity="0.7"/>
<rect x="399.4" y="193.8" width="2.6" height="1.8" fill="#23252a"/>
<rect x="386.6" y="191.8" width="2.2" height="1.2" fill="#dfe6ee" opacity="0.55"/>
<rect x="393.9" y="199.0" width="4.3" height="4.6" fill="#c4c8cd"/>
<rect x="390.4" y="198.8" width="3.9" height="5" fill="#1b1c1f"/>
<rect x="399.6" y="199.4" width="2.6" height="1.6" fill="#dfe6ee" opacity="0.7"/>
<rect x="399.8" y="201.8" width="2.6" height="1.8" fill="#23252a"/>
<rect x="387.0" y="199.8" width="2.2" height="1.2" fill="#dfe6ee" opacity="0.55"/>
<rect x="394.3" y="207.0" width="4.3" height="4.6" fill="#c4c8cd"/>
<rect x="390.8" y="206.8" width="3.9" height="5" fill="#1b1c1f"/>
<rect x="400.0" y="207.4" width="2.6" height="1.6" fill="#dfe6ee" opacity="0.7"/>
<rect x="400.2" y="209.8" width="2.6" height="1.8" fill="#23252a"/>
<rect x="387.4" y="207.8" width="2.2" height="1.2" fill="#dfe6ee" opacity="0.55"/>
<rect x="394.7" y="215.0" width="4.3" height="4.6" fill="#c4c8cd"/>
<rect x="391.2" y="214.8" width="3.9" height="5" fill="#1b1c1f"/>
<rect x="400.4" y="215.4" width="2.6" height="1.6" fill="#dfe6ee" opacity="0.7"/>
<rect x="400.6" y="217.8" width="2.6" height="1.8" fill="#23252a"/>
<rect x="387.8" y="215.8" width="2.2" height="1.2" fill="#dfe6ee" opacity="0.55"/>
<rect x="395.1" y="223.0" width="4.3" height="4.6" fill="#c4c8cd"/>
<rect x="391.6" y="222.8" width="3.9" height="5" fill="#1b1c1f"/>
<rect x="400.8" y="223.4" width="2.6" height="1.6" fill="#dfe6ee" opacity="0.7"/>
<rect x="401.0" y="225.8" width="2.6" height="1.8" fill="#23252a"/>
<rect x="388.2" y="223.8" width="2.2" height="1.2" fill="#dfe6ee" opacity="0.55"/>
<rect x="368.0" y="182.0" width="5.4" height="5.2" fill="#4a8fdc" />
<rect x="368.0" y="186.2" width="5.4" height="1.2" fill="#1d4f94" />
<rect x="374.5" y="181.0" width="7.0" height="1.2" fill="#dfe8f2" opacity="0.7"/>
<rect x="374.5" y="183.6" width="5.0" height="1.0" fill="#dfe8f2" opacity="0.6"/>
<rect x="357.0" y="181.5" width="5.0" height="1.0" fill="#dfe8f2" opacity="0.6"/>
<path d="M357.0 189.2 L360.2 192.6 L354.0 192.6 Z" fill="#d5d8dc"/>
<rect x="354.0" y="191.6" width="6.2" height="2.6" fill="#17181a" />
<rect x="355.6" y="194.2" width="3.0" height="1.8" fill="#cfd3d8" />
<path d="M381.4 189.2 L384.6 192.6 L378.4 192.6 Z" fill="#d5d8dc"/>
<rect x="378.4" y="191.6" width="6.2" height="2.6" fill="#17181a" />
<rect x="380.0" y="194.2" width="3.0" height="1.8" fill="#cfd3d8" />
<path d="M356.2 208.4 L359.4 211.8 L353.2 211.8 Z" fill="#d5d8dc"/>
<rect x="353.2" y="210.8" width="6.2" height="2.6" fill="#17181a" />
<rect x="354.8" y="213.4" width="3.0" height="1.8" fill="#cfd3d8" />
<path d="M380.5 208.4 L383.7 211.8 L377.5 211.8 Z" fill="#d5d8dc"/>
<rect x="377.5" y="210.8" width="6.2" height="2.6" fill="#17181a" />
<rect x="379.1" y="213.4" width="3.0" height="1.8" fill="#cfd3d8" />
<rect x="364.5" y="196.0" width="5.4" height="6.0" fill="#141517" />
<rect x="364.5" y="205.8" width="6.0" height="5.8" fill="#141517" />
<rect x="371.5" y="199.0" width="3.2" height="4.6" fill="#c9cdd2" />
<rect x="371.3" y="207.0" width="4.4" height="5.0" fill="#e8e4dc" />
<rect x="362.5" y="203.0" width="3.0" height="1.6" fill="#d6dbe2" opacity="0.8"/>
<rect x="355.6" y="216.0" width="5.6" height="7.0" fill="#121314" rx="1"/>
<rect x="368.0" y="215.0" width="5.4" height="7.0" fill="#121314" rx="1"/>
<circle cx="362.7" cy="222.3" r="3.2" fill="#1a1b1d"/><circle cx="362.5" cy="221.8" r="2.5" fill="#d9dde2"/><path d="M360.2 221.8 A2.5 2.5 0 0 1 362.5 219.3 L362.5 221.8 Z" fill="#4a4d52"/>
<circle cx="377.6" cy="220.9" r="2.7" fill="#1a1b1d"/><circle cx="377.5" cy="220.4" r="2.1" fill="#dde0e5"/><path d="M375.4 220.4 A2.1 2.1 0 0 1 377.5 218.3 L377.5 220.4 Z" fill="#4a4d52"/>
<rect x="362.0" y="230.0" width="5.8" height="1.8" fill="#e9e4da" />
<rect x="362.0" y="231.6" width="5.8" height="2.8" fill="#17181a" />
<rect x="369.0" y="234.5" width="7.0" height="1.0" fill="#dfe8f2" opacity="0.6"/>
<rect x="360.0" y="212.5" width="3.0" height="2.0" fill="#1a1b1d" />
<rect x="374.5" y="213.0" width="3.4" height="2.0" fill="#d9dde2" />
<rect x="359.0" y="200.0" width="3.0" height="1.6" fill="#1a1b1d" />
<rect x="375.6" y="196.4" width="2.6" height="2.0" fill="#1a1b1d" />
<rect x="367.6" y="190.2" width="3.0" height="2.2" fill="#22252a" />
<rect x="372.4" y="225.6" width="3.4" height="2.6" fill="#1a1b1d" />
<rect x="337.8" y="173.6" width="5.0" height="6.2" rx="2.0" fill="#b4b8bd"/>
<ellipse cx="340.3" cy="174.8" rx="2.4" ry="1.2" fill="#8a8e94"/>
<ellipse cx="339.9" cy="176.4" rx="1.2" ry="1.4" fill="#e3e6e9"/>
<rect x="338.3" y="179" width="4" height="1.8" fill="#22252a"/>
<rect x="350.5" y="173.6" width="5.0" height="6.2" rx="2.0" fill="#b4b8bd"/>
<ellipse cx="353.0" cy="174.8" rx="2.4" ry="1.2" fill="#8a8e94"/>
<ellipse cx="352.6" cy="176.4" rx="1.2" ry="1.4" fill="#e3e6e9"/>
<rect x="351.0" y="179" width="4" height="1.8" fill="#22252a"/>
<rect x="366.7" y="174.8" width="4.0" height="5.0" rx="1.6" fill="#b4b8bd"/>
<ellipse cx="368.7" cy="176.0" rx="1.9" ry="1.0" fill="#8a8e94"/>
<ellipse cx="368.3" cy="177.6" rx="1.0" ry="1.1" fill="#e3e6e9"/>
<rect x="366.7" y="179" width="4" height="1.8" fill="#22252a"/>
<rect x="383.6" y="173.6" width="5.0" height="6.2" rx="2.0" fill="#b4b8bd"/>
<ellipse cx="386.1" cy="174.8" rx="2.4" ry="1.2" fill="#8a8e94"/>
<ellipse cx="385.7" cy="176.4" rx="1.2" ry="1.4" fill="#e3e6e9"/>
<rect x="384.1" y="179" width="4" height="1.8" fill="#22252a"/>
<rect x="397.5" y="173.6" width="5.0" height="6.2" rx="2.0" fill="#b4b8bd"/>
<ellipse cx="400.0" cy="174.8" rx="2.4" ry="1.2" fill="#8a8e94"/>
<ellipse cx="399.6" cy="176.4" rx="1.2" ry="1.4" fill="#e3e6e9"/>
<rect x="398.0" y="179" width="4" height="1.8" fill="#22252a"/>
<rect x="324.3" y="234.7" width="8.699999999999989" height="8.6" fill="#5cc362"/>
<rect x="324.3" y="234.7" width="8.699999999999989" height="2.6" fill="#a9e6a6"/>
<rect x="325.3" y="238.6" width="2.8499999999999943" height="3" fill="#3b9445"/><rect x="329.15" y="238.6" width="2.8499999999999943" height="3" fill="#3b9445"/>
<rect x="337" y="239.2" width="4.199999999999989" height="4.2" rx="0.6" fill="#efe8dc"/>
<rect x="338" y="240.3" width="2.1999999999999886" height="1.9" fill="#a3927c"/>
<rect x="343" y="239.2" width="8.300000000000011" height="4.2" rx="0.6" fill="#efe8dc"/>
<rect x="344" y="240.3" width="6.300000000000011" height="1.9" fill="#a3927c"/>
<rect x="376" y="239.2" width="4.899999999999977" height="4.2" rx="0.6" fill="#efe8dc"/>
<rect x="377" y="240.3" width="2.8999999999999773" height="1.9" fill="#a3927c"/>
<rect x="395.3" y="239.2" width="8.199999999999989" height="4.2" rx="0.6" fill="#efe8dc"/>
<rect x="396.3" y="240.3" width="6.199999999999989" height="1.9" fill="#a3927c"/>
<rect x="353.6" y="230.9" width="10.699999999999989" height="13.2" fill="#b4b8bc"/>
<rect x="354.40000000000003" y="231.6" width="9.099999999999989" height="6.6" fill="#cfd2d5"/>
<rect x="354.40000000000003" y="239" width="9.099999999999989" height="4.6" fill="#23262a"/>
<rect x="355.20000000000005" y="238.2" width="7.4999999999999885" height="1" fill="#8b8f94"/>
<rect x="382.1" y="230.9" width="10.899999999999977" height="13.2" fill="#b4b8bc"/>
<rect x="382.90000000000003" y="231.6" width="9.299999999999978" height="6.6" fill="#cfd2d5"/>
<rect x="382.90000000000003" y="239" width="9.299999999999978" height="4.6" fill="#23262a"/>
<rect x="383.70000000000005" y="238.2" width="7.699999999999977" height="1" fill="#8b8f94"/>
<circle cx="312.3" cy="242.5" r="1.7" fill="#cfd4da"/><circle cx="312.3" cy="242.5" r="0.8" fill="#5b6470"/>
<circle cx="369.5" cy="242.4" r="1.7" fill="#cfd4da"/><circle cx="369.5" cy="242.4" r="0.8" fill="#5b6470"/>
<circle cx="433.5" cy="242.5" r="1.7" fill="#cfd4da"/><circle cx="433.5" cy="242.5" r="0.8" fill="#5b6470"/>
<circle cx="311.8" cy="179" r="1.7" fill="#cfd4da"/><circle cx="311.8" cy="179" r="0.8" fill="#5b6470"/>
<circle cx="426.5" cy="178.8" r="1.7" fill="#cfd4da"/><circle cx="426.5" cy="178.8" r="0.8" fill="#5b6470"/>
</g>
<ellipse cx="368.7" cy="184.3" rx="13.3" ry="4.3" fill="none" stroke="#efa21e" stroke-width="1.4"/>
<g id="pboard">
<path d="M155.2 314.8 L286.7 314.3 L290 370.4 L152 370.4 Z" fill="#1fa04a"/>
<path d="M152 369 L290 369 L290 370.6 L152 370.6 Z" fill="#157a37"/>
<path d="M155.2 314.8 L286.7 314.3 L287 319 L155 319.5 Z" fill="#27ad55" opacity="0.7"/>
<path d="M206 350 V360 L212 366 H232" fill="none" stroke="#17823a" stroke-width="0.7"/>
<path d="M256 350 L266 345 L272 338" fill="none" stroke="#17823a" stroke-width="0.7"/>
<path d="M256 353 L268 350 L275 346" fill="none" stroke="#17823a" stroke-width="0.7"/>
<path d="M177 327 V336" fill="none" stroke="#17823a" stroke-width="0.7"/>
<path d="M194 322 H250" fill="none" stroke="#17823a" stroke-width="0.6"/>
<rect x="178.7" y="307.2" width="14.6" height="19.5" fill="#a9aba6"/>
<rect x="179.39999999999998" y="307.9" width="13.2" height="10.7" fill="#c3c4be"/>
<rect x="178.7" y="319.3" width="14.6" height="7.4" fill="#1f5a33"/>
<rect x="179.5" y="323.6" width="13.0" height="3.1" fill="#1a1c1a"/>
<rect x="249.3" y="307.2" width="14.6" height="19.2" fill="#a9aba6"/>
<rect x="250.0" y="307.9" width="13.2" height="10.6" fill="#c3c4be"/>
<rect x="249.3" y="319.1" width="14.6" height="7.3" fill="#1f5a33"/>
<rect x="250.10000000000002" y="323.3" width="13.0" height="3.1" fill="#1a1c1a"/>
<rect x="271.1" y="328.9" width="17.2" height="18.2" fill="#b5b7b1"/>
<rect x="271.8" y="329.6" width="15.8" height="9.5" fill="#c8c9c3"/>
<rect x="271.1" y="340" width="17.2" height="7.1" fill="#2b7a45"/>
<circle cx="159.6" cy="318" r="2.7" fill="#c9ccd0"/><circle cx="159.6" cy="318" r="1.4" fill="#9aa0a6"/>
<circle cx="216.5" cy="318" r="2.7" fill="#c9ccd0"/><circle cx="216.5" cy="318" r="1.4" fill="#9aa0a6"/>
<circle cx="282.4" cy="317.4" r="2.7" fill="#c9ccd0"/><circle cx="282.4" cy="317.4" r="1.4" fill="#9aa0a6"/>
<circle cx="157" cy="367" r="2.7" fill="#c9ccd0"/><circle cx="157" cy="367" r="1.4" fill="#9aa0a6"/>
<circle cx="284.6" cy="367" r="2.7" fill="#c9ccd0"/><circle cx="284.6" cy="367" r="1.4" fill="#9aa0a6"/>
<rect x="203" y="323.6" width="13" height="1.1" fill="#d9f0df" opacity="0.8"/>
<rect x="186" y="328.2" width="34" height="1.1" fill="#d9f0df" opacity="0.65"/>
<rect x="164" y="337" width="5" height="1.4" fill="#d9f0df" opacity="0.8"/>
<rect x="157" y="348.3" width="10" height="1.2" fill="#d9f0df" opacity="0.75"/><rect x="157" y="351" width="8" height="1" fill="#d9f0df" opacity="0.6"/><rect x="157" y="358.5" width="5" height="1" fill="#d9f0df" opacity="0.6"/>
<rect x="155.7" y="334.8" width="6.8" height="9.4" fill="#f2f2ee"/>
<rect x="158.4" y="334.8" width="1.4" height="5" fill="#b7b9b4"/>
<rect x="156" y="344.4" width="7" height="2.6" fill="#e6e7e2" opacity="0.9"/>
<rect x="171" y="337.4" width="13.4" height="9" fill="#1a1b1c"/><rect x="171" y="338.6" width="2" height="6.6" fill="#c7cacc"/><rect x="182.4" y="338.6" width="3.4" height="6.6" fill="#b7babc"/>
<rect x="172.6" y="349.6" width="7.2" height="5" fill="#151617"/>
<rect x="226" y="322.8" width="8.4" height="3.6" fill="#151617"/><rect x="225.5" y="321.5" width="3" height="1.2" fill="#e6e7e2"/>
<rect x="246.6" y="360.2" width="6.6" height="4.6" rx="1" fill="#1a1b1c"/><rect x="244.2" y="361.6" width="2.4" height="1.4" fill="#d0d2d4"/><rect x="253.2" y="361.6" width="2.4" height="1.4" fill="#d0d2d4"/>
<rect x="187.6" y="337.6" width="9.4" height="9.6" rx="2" fill="#17181a"/><rect x="189" y="339" width="6.6" height="3" rx="1" fill="#2f3134"/>
<ellipse cx="205.2" cy="341.8" rx="4.4" ry="4.4" fill="#23262a"/>
<circle cx="205.2" cy="339.59999999999997" r="4.0" fill="#c9cdd1"/>
<path d="M201.2 339.59999999999997 A4.0 4.0 0 0 1 205.2 335.6 L205.2 339.59999999999997 Z" fill="#3a3d42"/>
<circle cx="205.79999999999998" cy="339.8" r="1.3" fill="#eef0f2"/>
<ellipse cx="190.6" cy="355.20000000000005" rx="4.4" ry="4.4" fill="#23262a"/>
<circle cx="190.6" cy="353.0" r="4.0" fill="#c9cdd1"/>
<path d="M186.6 353.0 A4.0 4.0 0 0 1 190.6 349.00000000000006 L190.6 353.0 Z" fill="#3a3d42"/>
<circle cx="191.2" cy="353.20000000000005" r="1.3" fill="#eef0f2"/>
<rect x="215.2" y="332" width="39.6" height="24.6" fill="#1b1d1e"/>
<rect x="216.4" y="333" width="37.2" height="21.6" fill="#2a8a4c"/>
<rect x="216.4" y="354" width="37.2" height="2" fill="#bfc3c6"/>
<rect x="226.2" y="333.8" width="17" height="8.8" fill="#f1f1ee"/>
<rect x="228" y="336" width="13" height="0.9" fill="#c4c6c8"/><rect x="228" y="338.2" width="11" height="0.9" fill="#c4c6c8"/>
<ellipse cx="232" cy="346.2" rx="6.4" ry="3" fill="#e9eaec"/>
<rect x="243.6" y="341.6" width="6.4" height="11.6" rx="1" fill="#141516"/>
<rect x="245.2" y="335" width="3.6" height="5.6" fill="#a9adb0"/>
<rect x="219.6" y="340" width="3.8" height="3.4" fill="#151617"/><rect x="219.4" y="346.6" width="4.6" height="4" fill="#151617"/>
<circle cx="221" cy="336" r="1.4" fill="#d6d8da"/>
<rect x="250.6" y="334" width="2.4" height="19" fill="#3b9c5c"/>
<rect x="217.6" y="360.6" width="1.8" height="1.8" fill="#e8f3ea"/>
<rect x="222.5" y="360.6" width="1.8" height="1.8" fill="#e8f3ea"/>
<rect x="227.4" y="360.6" width="1.8" height="1.8" fill="#e8f3ea"/>
<rect x="232.3" y="360.6" width="1.8" height="1.8" fill="#e8f3ea"/>
<rect x="237.2" y="360.6" width="1.8" height="1.8" fill="#e8f3ea"/>
<rect x="242.1" y="360.6" width="1.8" height="1.8" fill="#e8f3ea"/>
<rect x="217.6" y="365.2" width="1.8" height="1.8" fill="#e8f3ea"/>
<rect x="222.5" y="365.2" width="1.8" height="1.8" fill="#e8f3ea"/>
<rect x="227.4" y="365.2" width="1.8" height="1.8" fill="#e8f3ea"/>
<rect x="232.3" y="365.2" width="1.8" height="1.8" fill="#e8f3ea"/>
<rect x="237.2" y="365.2" width="1.8" height="1.8" fill="#e8f3ea"/>
<rect x="242.1" y="365.2" width="1.8" height="1.8" fill="#e8f3ea"/>
</g>
<g id="wires">
<path d="M19 230 V264 H6.5 V56 H155 V187.5 H187" fill="none" stroke="#1558ae" stroke-width="2.3" stroke-linejoin="miter"/>
<path d="M56.7 230 V247.3 H99.1 V230" fill="none" stroke="#1558ae" stroke-width="2.3" stroke-linejoin="miter"/>
<path d="M102.6 230 V263 H242.8 V243.5" fill="none" stroke="#1558ae" stroke-width="2.3" stroke-linejoin="miter"/>
<path d="M134.8 230 V250.5 H182.6 V234" fill="none" stroke="#1558ae" stroke-width="2.3" stroke-linejoin="miter"/>
<path d="M205 87.4 H182.6 V178" fill="none" stroke="#1558ae" stroke-width="2.3" stroke-linejoin="miter"/>
<path d="M222.7 241 V283.4 H184.3 V308" fill="none" stroke="#1558ae" stroke-width="2.3" stroke-linejoin="miter"/>
<path d="M251.9 241 V264.5 H357.8 V241" fill="none" stroke="#1558ae" stroke-width="2.3" stroke-linejoin="miter"/>
<path d="M387.5 241 V264 H474.6 V245" fill="none" stroke="#1558ae" stroke-width="2.3" stroke-linejoin="miter"/>
<path d="M127 338.3 H157" fill="none" stroke="#1558ae" stroke-width="2.3" stroke-linejoin="miter"/>
<path d="M288 337 H349" fill="none" stroke="#1558ae" stroke-width="2.3" stroke-linejoin="miter"/>
<path d="M384.1 326.7 L435.2 295.7" fill="none" stroke="#1a66c0" stroke-width="1.6" stroke-linejoin="miter"/>
<path d="M388.5 344.1 L434.1 365.9" fill="none" stroke="#1a66c0" stroke-width="1.6" stroke-linejoin="miter"/>
</g>
<g id="lock">
<path d="M267 79.5 C276 76.5 283 77 281.5 82.5 C280.5 86.5 274 87.5 268 87.8" fill="none" stroke="#1c1c1c" stroke-width="2.2"/>
<path d="M257.6 67.6 L266.4 63.2" stroke="#8f9194" stroke-width="1.3" fill="none"/>
<circle cx="266.6" cy="63.1" r="1.1" fill="#7b7d80"/>
<rect x="256.2" y="61.2" width="1.8" height="9" fill="#9a9c9f"/>
<path d="M222.6 66.5 L254 61.2 L256.5 63 L257 69 L267.5 71 L269.2 101 L231 110.3 L224 107 Z" fill="#d9dbdd"/>
<path d="M222.6 66.5 L254 61.2 L256.5 63 L226 68.8 Z" fill="#f1f2f3"/>
<path d="M222.6 66.5 L226 68.8 L227.5 108.6 L224 107 Z" fill="#a9abae"/>
<path d="M231 110.3 L269.2 101 L269 98.5 L230.5 107.6 Z" fill="#b5b7ba"/>
<rect x="221.3" y="73.5" width="3.6" height="7.5" rx="1" fill="#2a2a2a"/>
<rect x="232" y="72" width="2.2" height="5.4" rx="1" fill="#3b3b3b"/>
<path d="M224 86.2 L237 83.2 L237 86.6 L224 89.6 Z" fill="#2b2b2b"/>
<rect x="245.2" y="99.5" width="5" height="5.5" fill="#2a2a2a"/>
<circle cx="244" cy="72.5" r="0.9" fill="#4a4a4a"/>
<circle cx="251" cy="81.7" r="0.9" fill="#4a4a4a"/>
<circle cx="264.5" cy="79" r="0.9" fill="#4a4a4a"/>
<circle cx="235.5" cy="90" r="0.9" fill="#4a4a4a"/>
<circle cx="229" cy="96.5" r="0.9" fill="#4a4a4a"/>
<circle cx="235" cy="97.5" r="0.9" fill="#4a4a4a"/>
<circle cx="241.5" cy="96" r="0.9" fill="#4a4a4a"/>
<circle cx="264.5" cy="94" r="0.9" fill="#4a4a4a"/>
<circle cx="229" cy="74.5" r="0.9" fill="#4a4a4a"/>
<rect x="256.5" y="93.6" width="5" height="1.4" fill="#9c9ea1"/>
<path d="M205.5 84.5 L213 83 L217 82.6 L221.5 84.5 L221.5 87.5 L214 89.5 L206 90.3 Z" fill="#1d1d1d"/>
<rect x="216" y="85.3" width="8" height="0.9" fill="#2e8b4f"/><rect x="216" y="86.5" width="8" height="0.9" fill="#c33"/>
<rect x="211" y="104.5" width="13" height="2.4" rx="1.2" fill="#bcbec0"/>
<path d="M194.6 110 V96.3 Q194.6 94.6 196.3 94.6 H202 Q203.7 94.6 203.7 96.3 V112" fill="none" stroke="#a9a9a9" stroke-width="1.8"/>
<path d="M189.5 111.2 L201.5 107.6 L210.5 114.5 L198.5 118 Z" fill="#bdbdbd"/>
<path d="M189.5 111.2 L198.5 118 L198.5 119.2 L189.5 112.4 Z" fill="#8d8d8d"/>
<circle cx="199.5" cy="112" r="1.3" fill="#909090"/><circle cx="205" cy="114.5" r="1" fill="#8a8a8a"/>
</g>
<g id="addr">
<clipPath id="ecl"><ellipse cx="371.2" cy="94.7" rx="71.6" ry="28.4"/></clipPath>
<g clip-path="url(#ecl)">
<rect x="295" y="60" width="155" height="70" fill="#1766b6"/>
<path d="M299 60 H356 L345 74 H299 Z" fill="#1c70c2"/>
<path d="M385 66 H450 V74 H395 Z" fill="#1a6cbd"/>
<rect x="299" y="74" width="150" height="1" fill="#0f4f96" opacity="0.5"/>
<circle cx="372" cy="64.5" r="10.5" fill="none" stroke="#e8eef5" stroke-width="2"/>
<circle cx="372" cy="64" r="7" fill="#cfd6de"/>
<rect x="400" y="68.5" width="14" height="3" fill="#e6edf5" opacity="0.9"/>
<rect x="416" y="77" width="14" height="6" fill="#dfe7f0" opacity="0.85"/>
<rect x="404" y="77" width="2" height="4" fill="#dfe7f0" opacity="0.85"/>
<text x="399" y="92.5" font-size="6.5" font-weight="bold" fill="#eef3f8" font-family="Liberation Sans, sans-serif">RES</text>
<rect x="301.9" y="92.2" width="8" height="2.6" fill="#e9edf1"/>
<rect x="324.4" y="92.2" width="8.5" height="2.6" fill="#e9edf1"/>
<rect x="304.4" y="103.2" width="6" height="2.4" fill="#e9edf1"/>
<rect x="324.4" y="103.6" width="7" height="2.4" fill="#e9edf1"/>
<rect x="307.4" y="101" width="19.6" height="8.4" fill="#16181b"/>
<rect x="307.4" y="87" width="19.6" height="16" rx="1" fill="#8e949b"/>
<rect x="308.4" y="88" width="17.6" height="13.6" rx="1" fill="#a3a9b0"/>
<ellipse cx="317.2" cy="94.4" rx="5.6" ry="4.9" fill="#2f3337"/>
<ellipse cx="317.2" cy="93.6" rx="4.8" ry="4" fill="#3d4247"/>
<circle cx="310.0" cy="89.4" r="1.5" fill="#202326"/>
<circle cx="324.4" cy="89.4" r="1.5" fill="#202326"/>
<circle cx="310.0" cy="100" r="1.5" fill="#202326"/>
<circle cx="324.4" cy="100" r="1.5" fill="#202326"/>
<rect x="407.3" y="90.8" width="8" height="2.6" fill="#e9edf1"/>
<rect x="429.8" y="90.8" width="8.5" height="2.6" fill="#e9edf1"/>
<rect x="409.8" y="101.8" width="6" height="2.4" fill="#e9edf1"/>
<rect x="429.8" y="102.19999999999999" width="7" height="2.4" fill="#e9edf1"/>
<rect x="412.8" y="99.6" width="19.6" height="8.4" fill="#16181b"/>
<rect x="412.8" y="85.6" width="19.6" height="16" rx="1" fill="#8e949b"/>
<rect x="413.8" y="86.6" width="17.6" height="13.6" rx="1" fill="#a3a9b0"/>
<ellipse cx="422.6" cy="93.0" rx="5.6" ry="4.9" fill="#2f3337"/>
<ellipse cx="422.6" cy="92.19999999999999" rx="4.8" ry="4" fill="#3d4247"/>
<circle cx="415.40000000000003" cy="88.0" r="1.5" fill="#202326"/>
<circle cx="429.8" cy="88.0" r="1.5" fill="#202326"/>
<circle cx="415.40000000000003" cy="98.6" r="1.5" fill="#202326"/>
<circle cx="429.8" cy="98.6" r="1.5" fill="#202326"/>
<rect x="353.5" y="104" width="33" height="11" fill="#1a4f9c"/>
<rect x="353.5" y="113.5" width="33" height="1.8" fill="#c9d2dc"/>
<path d="M355 79 H386.8 V105 H353 V81 Z" fill="#3f86d6"/>
<path d="M355 79 H386.8 V82 H353.8 Z" fill="#5b9be2"/>
<rect x="346.5" y="94.5" width="6.5" height="2.6" fill="#e6ebf0"/>
<rect x="387" y="93.5" width="6.5" height="2.6" fill="#e6ebf0"/>
<rect x="346.5" y="96.9" width="6.5" height="1.2" fill="#20242a"/>
<rect x="387" y="95.9" width="6.5" height="1.2" fill="#20242a"/>
<rect x="346.5" y="101" width="6.5" height="2.6" fill="#e6ebf0"/>
<rect x="387" y="100" width="6.5" height="2.6" fill="#e6ebf0"/>
<rect x="346.5" y="103.4" width="6.5" height="1.2" fill="#20242a"/>
<rect x="387" y="102.4" width="6.5" height="1.2" fill="#20242a"/>
<rect x="346.5" y="107.5" width="6.5" height="2.6" fill="#e6ebf0"/>
<rect x="387" y="106.5" width="6.5" height="2.6" fill="#e6ebf0"/>
<rect x="346.5" y="109.9" width="6.5" height="1.2" fill="#20242a"/>
<rect x="387" y="108.9" width="6.5" height="1.2" fill="#20242a"/>
<circle cx="369.3" cy="91.5" r="6.2" fill="#f2f0ec"/>
<circle cx="369.3" cy="91.5" r="4.4" fill="#e3cfb6"/>
<rect x="368.4" y="87.6" width="1.8" height="5" fill="#b99a78"/>
<text x="369.3" y="84.3" font-size="6" font-weight="bold" text-anchor="middle" fill="#f4f7fb" font-family="Liberation Sans, sans-serif">5</text>
<text x="375.5" y="86.1" font-size="6" font-weight="bold" text-anchor="middle" fill="#f4f7fb" font-family="Liberation Sans, sans-serif">6</text>
<text x="379.4" y="90.8" font-size="6" font-weight="bold" text-anchor="middle" fill="#f4f7fb" font-family="Liberation Sans, sans-serif">7</text>
<text x="379.4" y="96.6" font-size="6" font-weight="bold" text-anchor="middle" fill="#f4f7fb" font-family="Liberation Sans, sans-serif">8</text>
<text x="375.5" y="101.3" font-size="6" font-weight="bold" text-anchor="middle" fill="#f4f7fb" font-family="Liberation Sans, sans-serif">9</text>
<text x="369.3" y="103.1" font-size="6" font-weight="bold" text-anchor="middle" fill="#f4f7fb" font-family="Liberation Sans, sans-serif">0</text>
<text x="363.1" y="101.3" font-size="6" font-weight="bold" text-anchor="middle" fill="#f4f7fb" font-family="Liberation Sans, sans-serif">1</text>
<text x="359.2" y="96.6" font-size="6" font-weight="bold" text-anchor="middle" fill="#f4f7fb" font-family="Liberation Sans, sans-serif">2</text>
<text x="359.2" y="90.8" font-size="6" font-weight="bold" text-anchor="middle" fill="#f4f7fb" font-family="Liberation Sans, sans-serif">3</text>
<text x="363.1" y="86.1" font-size="6" font-weight="bold" text-anchor="middle" fill="#f4f7fb" font-family="Liberation Sans, sans-serif">4</text>
<circle cx="371.7" cy="117.4" r="1.6" fill="none" stroke="#eef2f6" stroke-width="0.9"/>
<circle cx="400.5" cy="106.8" r="1.4" fill="none" stroke="#dfe6ee" stroke-width="0.8"/>
<circle cx="341" cy="95" r="0.8" fill="#0f4a8f"/><circle cx="330" cy="112" r="0.8" fill="#0f4a8f"/><circle cx="318" cy="83" r="0.8" fill="#0f4a8f"/>
</g>
<ellipse cx="371.2" cy="94.7" rx="71.8" ry="28.6" fill="none" stroke="#efa21e" stroke-width="1.6"/>
<path d="M299.8 100.6 L355.3 183.6" stroke="#efa21e" stroke-width="1.5" fill="none"/>
<path d="M442.4 100 L382 183.6" stroke="#efa21e" stroke-width="1.5" fill="none"/>
</g>
<g id="router">
<ellipse cx="372" cy="346" rx="26" ry="7" fill="#000" opacity="0.08"/>
<rect x="346.1" y="300" width="2.4" height="34" rx="0.8" fill="#141414"/>
<rect x="355.3" y="300" width="2.4" height="31.5" rx="0.8" fill="#141414"/>
<rect x="363.8" y="300" width="2.4" height="29.5" rx="0.8" fill="#141414"/>
<rect x="371.6" y="299.6" width="2.4" height="28.399999999999977" rx="0.8" fill="#141414"/>
<path d="M348.3 332.2 L377.6 326.3 L395 332.2 L363.5 338.9 Z" fill="#2b2b2b"/>
<path d="M348.3 332.2 L363.5 338.9 L364.6 351.3 L348.6 344 Z" fill="#0e0e0e"/>
<path d="M363.5 338.9 L395 332.2 L395 339.8 L364.6 351.3 Z" fill="#1c1c1c"/>
<path d="M364 340.6 L395 333.8" stroke="#3a3a3a" stroke-width="0.7"/>
</g>
<g transform="translate(0,0)">
<defs><linearGradient id="tw" x1="0" x2="1"><stop offset="0" stop-color="#3a3e42"/><stop offset="0.6" stop-color="#4a4f54"/><stop offset="1" stop-color="#2d3033"/></linearGradient><linearGradient id="tws" x1="0" x2="1"><stop offset="0" stop-color="#8e9398"/><stop offset="0.5" stop-color="#c4c8cc"/><stop offset="1" stop-color="#5a5e62"/></linearGradient></defs>
<path d="M451.3 272.5 L456.8 274.5 L457.2 306.5 L451.3 310.4 Z" fill="url(#tws)"/>
<path d="M436.5 275.7 L451.3 272.5 L451.3 310.4 L434.8 309 Z" fill="url(#tw)"/>
<path d="M436.5 275.7 L451.3 272.5 L451.3 274.2 L436.5 277.4 Z" fill="#6a6f74"/>
<path d="M435.2 291.2 L451.3 289.4 L451.3 290.6 L435.2 292.4 Z" fill="#1d1f21"/>
<rect x="440.5" y="276.6" width="2" height="1.2" fill="#d0d4d8"/><rect x="445.5" y="275.6" width="2" height="1.2" fill="#d0d4d8"/>
<rect x="440" y="288" width="8" height="1.3" fill="#8d9196"/>
<rect x="440.3" y="296" width="3.2" height="2.4" fill="#e8eaec"/>
<path d="M434.8 307.2 L451.3 308.6 L451.3 310.4 L434.8 309 Z" fill="#9a9ea2"/>
<path d="M455.7 268.7 L490.4 273.9 L495.1 296.9 L457.4 297.4 Z" fill="#141414"/>
<path d="M457.8 271 L489 275.6 L492.8 293.6 L459 294.2 Z" fill="#fcfcfc"/>
<path d="M478 272.2 L490.4 273.9 L491 276.5 L478.5 274.5 Z" fill="#8a8a8a" opacity="0.8"/>
<rect x="475.5" y="295" width="2" height="1.3" fill="#ddd"/>
<path d="M472.2 297.2 H481.7 L481.2 302.5 H472.6 Z" fill="#9b9da0"/>
<ellipse cx="478.8" cy="303" rx="11.6" ry="1.9" fill="#2a2a2a"/>
<path d="M454.8 307.3 L468 303.8 L492.2 303.1 L501.7 307.8 L461.7 314.5 Z" fill="#1b1b1b"/>
<path d="M454.8 307.3 L461.7 314.5 L461.7 315.6 L454.6 308.5 Z" fill="#909498"/>
<path d="M461.7 314.5 L501.7 307.8 L501.7 308.8 L461.7 315.6 Z" fill="#a0a4a8"/>
<path d="M458.5 307.6 L493.5 303.9" stroke="#55595d" stroke-width="0.5"/>
<path d="M460.7 309.15000000000003 L495.4 304.9" stroke="#55595d" stroke-width="0.5"/>
<path d="M462.9 310.70000000000005 L497.3 305.9" stroke="#55595d" stroke-width="0.5"/>
<path d="M465.1 312.25 L499.2 306.9" stroke="#55595d" stroke-width="0.5"/>
<ellipse cx="508.7" cy="307.8" rx="3.4" ry="2.1" fill="#1e1e1e"/>
<ellipse cx="508.2" cy="307.2" rx="2" ry="0.9" fill="#5c5c5c"/>
<path d="M502 307.6 L505.3 307.6" stroke="#888" stroke-width="0.5"/>
</g>
<g transform="translate(-0.8,69.1)">

<path d="M451.3 272.5 L456.8 274.5 L457.2 306.5 L451.3 310.4 Z" fill="url(#tws)"/>
<path d="M436.5 275.7 L451.3 272.5 L451.3 310.4 L434.8 309 Z" fill="url(#tw)"/>
<path d="M436.5 275.7 L451.3 272.5 L451.3 274.2 L436.5 277.4 Z" fill="#6a6f74"/>
<path d="M435.2 291.2 L451.3 289.4 L451.3 290.6 L435.2 292.4 Z" fill="#1d1f21"/>
<rect x="440.5" y="276.6" width="2" height="1.2" fill="#d0d4d8"/><rect x="445.5" y="275.6" width="2" height="1.2" fill="#d0d4d8"/>
<rect x="440" y="288" width="8" height="1.3" fill="#8d9196"/>
<rect x="440.3" y="296" width="3.2" height="2.4" fill="#e8eaec"/>
<path d="M434.8 307.2 L451.3 308.6 L451.3 310.4 L434.8 309 Z" fill="#9a9ea2"/>
<path d="M455.7 268.7 L490.4 273.9 L495.1 296.9 L457.4 297.4 Z" fill="#141414"/>
<path d="M457.8 271 L489 275.6 L492.8 293.6 L459 294.2 Z" fill="#fcfcfc"/>
<path d="M478 272.2 L490.4 273.9 L491 276.5 L478.5 274.5 Z" fill="#8a8a8a" opacity="0.8"/>
<rect x="475.5" y="295" width="2" height="1.3" fill="#ddd"/>
<path d="M472.2 297.2 H481.7 L481.2 302.5 H472.6 Z" fill="#9b9da0"/>
<ellipse cx="478.8" cy="303" rx="11.6" ry="1.9" fill="#2a2a2a"/>
<path d="M454.8 307.3 L468 303.8 L492.2 303.1 L501.7 307.8 L461.7 314.5 Z" fill="#1b1b1b"/>
<path d="M454.8 307.3 L461.7 314.5 L461.7 315.6 L454.6 308.5 Z" fill="#909498"/>
<path d="M461.7 314.5 L501.7 307.8 L501.7 308.8 L461.7 315.6 Z" fill="#a0a4a8"/>
<path d="M458.5 307.6 L493.5 303.9" stroke="#55595d" stroke-width="0.5"/>
<path d="M460.7 309.15000000000003 L495.4 304.9" stroke="#55595d" stroke-width="0.5"/>
<path d="M462.9 310.70000000000005 L497.3 305.9" stroke="#55595d" stroke-width="0.5"/>
<path d="M465.1 312.25 L499.2 306.9" stroke="#55595d" stroke-width="0.5"/>
<ellipse cx="508.7" cy="307.8" rx="3.4" ry="2.1" fill="#1e1e1e"/>
<ellipse cx="508.2" cy="307.2" rx="2" ry="0.9" fill="#5c5c5c"/>
<path d="M502 307.6 L505.3 307.6" stroke="#888" stroke-width="0.5"/>
</g>
<g id="texts" font-family="'Liberation Sans', sans-serif">
<text x="326.3" y="53.9" font-size="12" fill="#e8931a" font-weight="normal" text-anchor="start" textLength="86.5" lengthAdjust="spacing" stroke="#e8931a" stroke-width="0.25">Address code</text>
<text x="229.2" y="171.8" font-size="10" fill="#111" font-weight="normal" text-anchor="start" textLength="25.6" lengthAdjust="spacing" stroke="#111" stroke-width="0.12">CU-1</text>
<text x="357.4" y="171.7" font-size="10.2" fill="#111" font-weight="normal" text-anchor="start" textLength="27.3" lengthAdjust="spacing" stroke="#111" stroke-width="0.12">CU-2</text>
<text x="20.5" y="260.5" font-size="9.2" fill="#111" font-weight="normal" text-anchor="start" textLength="11" lengthAdjust="spacing" stroke="#111" stroke-width="0.15">IR</text>
<text x="50.5" y="260.5" font-size="9.2" fill="#111" font-weight="normal" text-anchor="start" textLength="11" lengthAdjust="spacing" stroke="#111" stroke-width="0.15">IR</text>
<text x="89.5" y="260.5" font-size="9.2" fill="#111" font-weight="normal" text-anchor="start" textLength="11" lengthAdjust="spacing" stroke="#111" stroke-width="0.15">IR</text>
<text x="121.5" y="260.5" font-size="9.2" fill="#111" font-weight="normal" text-anchor="start" textLength="11" lengthAdjust="spacing" stroke="#111" stroke-width="0.15">IR</text>
<text x="17.4" y="344.4" font-size="17.6" fill="#1a1a1a" font-weight="normal" text-anchor="start" textLength="78" lengthAdjust="spacingAndGlyphs" stroke="#1a1a1a" stroke-width="0.2">12V/24V</text>
<text x="353.7" y="364.9" font-size="10.5" fill="#111" font-weight="normal" text-anchor="start" textLength="35.4" lengthAdjust="spacing" stroke="#111" stroke-width="0.2">Router</text>
<text x="461.7" y="327.6" font-size="9.8" fill="#111" font-weight="normal" text-anchor="start" textLength="14.8" lengthAdjust="spacing" stroke="#111" stroke-width="0.2">PC</text>
<text x="447.8" y="400.5" font-size="9.8" fill="#111" font-weight="normal" text-anchor="start" textLength="48.7" lengthAdjust="spacing" stroke="#111" stroke-width="0.2">Other PC</text>
<rect x="439.5" y="175.1" width="118.5" height="69.4" fill="#fff" stroke="#1558ae" stroke-width="1.5"/>
<text x="440.8" y="192" font-size="9.6" fill="#111" font-weight="bold" text-anchor="start" textLength="114.3" lengthAdjust="spacing">Connect at most 10 pcs</text>
<text x="440.8" y="206.5" font-size="9.6" fill="#111" font-weight="bold" text-anchor="start" textLength="95" lengthAdjust="spacing">CUs,and each CU's</text>
<text x="440.8" y="220.7" font-size="9.6" fill="#111" font-weight="bold" text-anchor="start" textLength="107" lengthAdjust="spacing">address code can't be</text>
<text x="440.8" y="235" font-size="9.6" fill="#111" font-weight="bold" text-anchor="start" textLength="44" lengthAdjust="spacing">the same</text>
</g>
<g id="power" fill="none" stroke="#1a1a1a"><path d="M106.29 330.88 A9.2 9.2 0 1 0 116.31 330.88" stroke-width="2.7" stroke-linecap="round"/><path d="M111.3 325.2 V337.2" stroke-width="3" stroke-linecap="round"/></g>
</svg>
</body></html>
